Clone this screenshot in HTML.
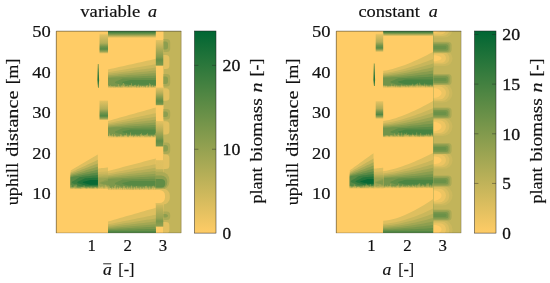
<!DOCTYPE html>
<html><head><meta charset="utf-8"><title>plant biomass</title>
<style>html,body{margin:0;padding:0;background:#fff}svg{display:block}</style>
</head><body>
<svg width="550" height="283" viewBox="0 0 550 283" font-family="'Liberation Serif','DejaVu Serif',serif" fill="#111">
<rect width="550" height="283" fill="#fff"/>
<clipPath id="cl"><rect x="56" y="31" width="125.4" height="202.1"/></clipPath>
<clipPath id="cr"><rect x="336" y="31" width="125.2" height="202.1"/></clipPath>
<g clip-path="url(#cl)">
<rect x="56" y="31" width="125.4" height="202.1" fill="#ffcc66"/>
<rect x="163.5" y="31" width="17.9" height="202.1" fill="#c2b45a"/>
<linearGradient id="g7" x1="0" y1="31" x2="0" y2="38" gradientUnits="userSpaceOnUse"><stop offset="0" stop-color="#26753b"/><stop offset="0.43" stop-color="#73944a"/><stop offset="1" stop-color="#ffcc66"/></linearGradient>
<rect x="108" y="31" width="47.8" height="7" fill="url(#g7)"/>
<polygon points="108,69.5 110.99,68.83 113.97,68.16 116.96,67.49 119.95,66.83 122.94,66.16 125.93,65.49 128.91,64.82 131.9,64.15 134.89,63.48 137.88,62.81 140.86,62.14 143.85,61.47 146.84,60.81 149.83,60.14 152.81,59.47 155.8,58.8 155.8,88 152.81,88 149.83,88 146.84,88 143.85,88 140.86,88 137.88,88 134.89,88 131.9,88 128.91,88 125.93,88 122.94,88 119.95,88 116.96,88 113.97,88 110.99,88 108,88" fill="#debf5f"/>
<polygon points="108,72.19 110.99,71.69 113.97,71.19 116.96,70.7 119.95,70.2 122.94,69.7 125.93,69.2 128.91,68.71 131.9,68.21 134.89,67.71 137.88,67.21 140.86,66.72 143.85,66.22 146.84,65.72 149.83,65.22 152.81,64.73 155.8,64.23 155.8,87.75 152.81,87.75 149.83,87.75 146.84,87.75 143.85,87.75 140.86,87.75 137.88,87.75 134.89,87.75 131.9,87.75 128.91,87.75 125.93,87.75 122.94,87.75 119.95,87.75 116.96,87.75 113.97,87.75 110.99,87.75 108,87.75" fill="#cab75b"/>
<polygon points="108,73.87 110.99,73.48 113.97,73.09 116.96,72.7 119.95,72.31 122.94,71.92 125.93,71.53 128.91,71.14 131.9,70.74 134.89,70.35 137.88,69.96 140.86,69.57 143.85,69.18 146.84,68.79 149.83,68.4 152.81,68.01 155.8,67.62 155.8,87.37 152.81,87.37 149.83,87.37 146.84,87.37 143.85,87.37 140.86,87.37 137.88,87.37 134.89,87.37 131.9,87.37 128.91,87.37 125.93,87.37 122.94,87.37 119.95,87.37 116.96,87.37 113.97,87.37 110.99,87.37 108,87.37" fill="#b7af58"/>
<polygon points="108,75.3 110.99,75 113.97,74.7 116.96,74.4 119.95,74.11 122.94,73.81 125.93,73.51 128.91,73.21 131.9,72.91 134.89,72.61 137.88,72.31 140.86,72.01 143.85,71.71 146.84,71.41 149.83,71.11 152.81,70.81 155.8,70.52 155.8,86.94 152.81,86.94 149.83,86.94 146.84,86.94 143.85,86.94 140.86,86.94 137.88,86.94 134.89,86.94 131.9,86.94 128.91,86.94 125.93,86.94 122.94,86.94 119.95,86.94 116.96,86.94 113.97,86.94 110.99,86.94 108,86.94" fill="#a3a754"/>
<polygon points="108,76.6 110.99,76.38 113.97,76.16 116.96,75.95 119.95,75.73 122.94,75.51 125.93,75.3 128.91,75.08 131.9,74.86 134.89,74.65 137.88,74.43 140.86,74.21 143.85,74 146.84,73.78 149.83,73.56 152.81,73.35 155.8,73.13 155.8,86.45 152.81,86.45 149.83,86.45 146.84,86.45 143.85,86.45 140.86,86.45 137.88,86.45 134.89,86.45 131.9,86.45 128.91,86.45 125.93,86.45 122.94,86.45 119.95,86.45 116.96,86.45 113.97,86.45 110.99,86.45 108,86.45" fill="#8f9f50"/>
<polygon points="108,77.8 110.99,77.66 113.97,77.52 116.96,77.38 119.95,77.24 122.94,77.09 125.93,76.95 128.91,76.81 131.9,76.67 134.89,76.53 137.88,76.39 140.86,76.25 143.85,76.11 146.84,75.97 149.83,75.83 152.81,75.69 155.8,75.55 155.8,85.93 152.81,85.93 149.83,85.93 146.84,85.93 143.85,85.93 140.86,85.93 137.88,85.93 134.89,85.93 131.9,85.93 128.91,85.93 125.93,85.93 122.94,85.93 119.95,85.93 116.96,85.93 113.97,85.93 110.99,85.93 108,85.93" fill="#7b974c"/>
<polygon points="115.02,81.94 117.57,80.86 120.12,79.74 122.67,78.59 125.22,78.53 127.77,78.47 130.31,78.42 132.86,78.36 135.41,78.3 137.96,78.24 140.51,78.18 143.06,78.12 145.61,78.06 148.15,78.01 150.7,77.95 153.25,77.89 155.8,77.83 155.8,85.38 153.25,85.38 150.7,85.38 148.15,85.38 145.61,85.38 143.06,85.38 140.51,85.38 137.96,85.38 135.41,85.38 132.86,85.38 130.31,85.38 127.77,85.38 125.22,85.38 122.67,85.38 120.12,84.56 117.57,83.75 115.02,82.93" fill="#689048"/>
<polygon points="122.34,82.12 124.43,81.54 126.52,80.96 128.61,80.38 130.71,80 132.8,80 134.89,80 136.98,80 139.07,80 141.16,80 143.25,80 145.34,80 147.44,80 149.53,80 151.62,80 153.71,80 155.8,80 155.8,84.8 153.71,84.8 151.62,84.8 149.53,84.8 147.44,84.8 145.34,84.8 143.25,84.8 141.16,84.8 139.07,84.8 136.98,84.8 134.89,84.8 132.8,84.8 130.71,84.8 128.61,84.45 126.52,83.91 124.43,83.38 122.34,82.84" fill="#548844"/>
<polygon points="108,85.35 109,85.35 109,87.16 110,87.16 110,85.23 111,85.23 111,87.83 112,87.83 112,86.14 113,86.14 113,86.29 114,86.29 114,85.66 115,85.66 115,86.87 116,86.87 116,87.35 117,87.35 117,86.86 118,86.86 118,84.25 119,84.25 119,87.64 120,87.64 120,87.19 121,87.19 121,85.42 122,85.42 122,84.49 123,84.49 123,83.09 124,83.09 124,84.42 125,84.42 125,86.42 126,86.42 126,86.02 127,86.02 127,85.53 128,85.53 128,87.38 129,87.38 129,85.05 130,85.05 130,84.97 131,84.97 131,83.15 132,83.15 132,87.06 133,87.06 133,86.51 134,86.51 134,85.02 135,85.02 135,84.82 136,84.82 136,87.64 137,87.64 137,87.99 138,87.99 138,84.54 139,84.54 139,87.96 140,87.96 140,85.69 141,85.69 141,87.39 142,87.39 142,85.92 143,85.92 143,86.15 144,86.15 144,86.75 145,86.75 145,87.61 146,87.61 146,85.4 147,85.4 147,84.97 148,84.97 148,87.16 149,87.16 149,83.21 150,83.21 150,84.19 151,84.19 151,86.78 152,86.78 152,85.04 153,85.04 153,87.78 154,87.78 154,85.63 155,85.63 155,85.97 155.8,85.97 155.8,88.6 108,88.6" fill="#ffcc66" opacity="0.28"/>
<polygon points="108,86.71 109,86.71 109,86.11 110,86.11 110,87.45 111,87.45 111,86.33 112,86.33 112,86.93 113,86.93 113,88 114,88 114,87.49 115,87.49 115,87.92 116,87.92 116,87.08 117,87.08 117,87.5 118,87.5 118,87.87 119,87.87 119,86.41 120,86.41 120,87.96 121,87.96 121,87.94 122,87.94 122,87.81 123,87.81 123,86.13 124,86.13 124,87.1 125,87.1 125,87.25 126,87.25 126,87.49 127,87.49 127,87.93 128,87.93 128,87.33 129,87.33 129,87.62 130,87.62 130,87.49 131,87.49 131,87.91 132,87.91 132,85.98 133,85.98 133,86.45 134,86.45 134,87.37 135,87.37 135,87.06 136,87.06 136,87.99 137,87.99 137,85.93 138,85.93 138,87.86 139,87.86 139,87.55 140,87.55 140,86.57 141,86.57 141,86.66 142,86.66 142,86.33 143,86.33 143,87.83 144,87.83 144,86.72 145,86.72 145,87.97 146,87.97 146,85.83 147,85.83 147,87.99 148,87.99 148,87.86 149,87.86 149,85.82 150,85.82 150,86.78 151,86.78 151,87.98 152,87.98 152,87.74 153,87.74 153,86.88 154,86.88 154,87.86 155,87.86 155,86.09 155.8,86.09 155.8,88.6 108,88.6" fill="#ffcc66" opacity="0.35"/>
<polygon points="108,121 110.99,120.16 113.97,119.31 116.96,118.47 119.95,117.62 122.94,116.78 125.93,115.94 128.91,115.09 131.9,114.25 134.89,113.41 137.88,112.56 140.86,111.72 143.85,110.88 146.84,110.03 149.83,109.19 152.81,108.34 155.8,107.5 155.8,137.5 152.81,137.5 149.83,137.5 146.84,137.5 143.85,137.5 140.86,137.5 137.88,137.5 134.89,137.5 131.9,137.5 128.91,137.5 125.93,137.5 122.94,137.5 119.95,137.5 116.96,137.5 113.97,137.5 110.99,137.5 108,137.5" fill="#debf5f"/>
<polygon points="108,123.18 110.99,122.55 113.97,121.92 116.96,121.29 119.95,120.67 122.94,120.04 125.93,119.41 128.91,118.78 131.9,118.16 134.89,117.53 137.88,116.9 140.86,116.27 143.85,115.65 146.84,115.02 149.83,114.39 152.81,113.76 155.8,113.13 155.8,137.25 152.81,137.25 149.83,137.25 146.84,137.25 143.85,137.25 140.86,137.25 137.88,137.25 134.89,137.25 131.9,137.25 128.91,137.25 125.93,137.25 122.94,137.25 119.95,137.25 116.96,137.25 113.97,137.25 110.99,137.25 108,137.25" fill="#cab75b"/>
<polygon points="108,124.54 110.99,124.04 113.97,123.55 116.96,123.06 119.95,122.57 122.94,122.07 125.93,121.58 128.91,121.09 131.9,120.59 134.89,120.1 137.88,119.61 140.86,119.12 143.85,118.62 146.84,118.13 149.83,117.64 152.81,117.15 155.8,116.65 155.8,136.87 152.81,136.87 149.83,136.87 146.84,136.87 143.85,136.87 140.86,136.87 137.88,136.87 134.89,136.87 131.9,136.87 128.91,136.87 125.93,136.87 122.94,136.87 119.95,136.87 116.96,136.87 113.97,136.87 110.99,136.87 108,136.87" fill="#b7af58"/>
<polygon points="108,125.7 110.99,125.32 113.97,124.94 116.96,124.56 119.95,124.19 122.94,123.81 125.93,123.43 128.91,123.05 131.9,122.68 134.89,122.3 137.88,121.92 140.86,121.54 143.85,121.17 146.84,120.79 149.83,120.41 152.81,120.03 155.8,119.66 155.8,136.44 152.81,136.44 149.83,136.44 146.84,136.44 143.85,136.44 140.86,136.44 137.88,136.44 134.89,136.44 131.9,136.44 128.91,136.44 125.93,136.44 122.94,136.44 119.95,136.44 116.96,136.44 113.97,136.44 110.99,136.44 108,136.44" fill="#a3a754"/>
<polygon points="108,126.75 110.99,126.47 113.97,126.2 116.96,125.92 119.95,125.65 122.94,125.38 125.93,125.1 128.91,124.83 131.9,124.56 134.89,124.28 137.88,124.01 140.86,123.74 143.85,123.46 146.84,123.19 149.83,122.92 152.81,122.64 155.8,122.37 155.8,135.95 152.81,135.95 149.83,135.95 146.84,135.95 143.85,135.95 140.86,135.95 137.88,135.95 134.89,135.95 131.9,135.95 128.91,135.95 125.93,135.95 122.94,135.95 119.95,135.95 116.96,135.95 113.97,135.95 110.99,135.95 108,135.95" fill="#8f9f50"/>
<polygon points="108,127.72 110.99,127.54 113.97,127.36 116.96,127.19 119.95,127.01 122.94,126.83 125.93,126.65 128.91,126.48 131.9,126.3 134.89,126.12 137.88,125.95 140.86,125.77 143.85,125.59 146.84,125.41 149.83,125.24 152.81,125.06 155.8,124.88 155.8,135.43 152.81,135.43 149.83,135.43 146.84,135.43 143.85,135.43 140.86,135.43 137.88,135.43 134.89,135.43 131.9,135.43 128.91,135.43 125.93,135.43 122.94,135.43 119.95,135.43 116.96,135.43 113.97,135.43 110.99,135.43 108,135.43" fill="#7b974c"/>
<polygon points="115.02,131.46 117.57,130.42 120.12,129.34 122.67,128.21 125.22,128.13 127.77,128.06 130.31,127.99 132.86,127.91 135.41,127.84 137.96,127.77 140.51,127.69 143.06,127.62 145.61,127.54 148.15,127.47 150.7,127.4 153.25,127.32 155.8,127.25 155.8,134.88 153.25,134.88 150.7,134.88 148.15,134.88 145.61,134.88 143.06,134.88 140.51,134.88 137.96,134.88 135.41,134.88 132.86,134.88 130.31,134.88 127.77,134.88 125.22,134.88 122.67,134.88 120.12,134.06 117.57,133.25 115.02,132.43" fill="#689048"/>
<polygon points="122.34,131.62 124.43,131.04 126.52,130.46 128.61,129.88 130.71,129.5 132.8,129.5 134.89,129.5 136.98,129.5 139.07,129.5 141.16,129.5 143.25,129.5 145.34,129.5 147.44,129.5 149.53,129.5 151.62,129.5 153.71,129.5 155.8,129.5 155.8,134.3 153.71,134.3 151.62,134.3 149.53,134.3 147.44,134.3 145.34,134.3 143.25,134.3 141.16,134.3 139.07,134.3 136.98,134.3 134.89,134.3 132.8,134.3 130.71,134.3 128.61,133.95 126.52,133.41 124.43,132.88 122.34,132.34" fill="#548844"/>
<polygon points="108,136.05 109,136.05 109,133.5 110,133.5 110,135.74 111,135.74 111,137.17 112,137.17 112,134.05 113,134.05 113,137.5 114,137.5 114,133.95 115,133.95 115,136.71 116,136.71 116,137.27 117,137.27 117,136.99 118,136.99 118,135.99 119,135.99 119,136.9 120,136.9 120,134.31 121,134.31 121,134.48 122,134.48 122,136.75 123,136.75 123,137.02 124,137.02 124,134.74 125,134.74 125,135.18 126,135.18 126,133.37 127,133.37 127,137 128,137 128,137.26 129,137.26 129,135.42 130,135.42 130,132.59 131,132.59 131,136.08 132,136.08 132,136.34 133,136.34 133,137.43 134,137.43 134,136.74 135,136.74 135,134.41 136,134.41 136,136.98 137,136.98 137,136.46 138,136.46 138,136.12 139,136.12 139,136.33 140,136.33 140,134 141,134 141,133.14 142,133.14 142,135 143,135 143,135.85 144,135.85 144,135.35 145,135.35 145,135.04 146,135.04 146,134.26 147,134.26 147,133.22 148,133.22 148,136.22 149,136.22 149,136.46 150,136.46 150,137.44 151,137.44 151,136.05 152,136.05 152,135.97 153,135.97 153,137.14 154,137.14 154,134.85 155,134.85 155,133.08 155.8,133.08 155.8,138.1 108,138.1" fill="#ffcc66" opacity="0.28"/>
<polygon points="108,135.96 109,135.96 109,135.46 110,135.46 110,135.55 111,135.55 111,135.52 112,135.52 112,136.32 113,136.32 113,136.73 114,136.73 114,136.4 115,136.4 115,135.4 116,135.4 116,137.47 117,137.47 117,137.49 118,137.49 118,137.11 119,137.11 119,136.45 120,136.45 120,136.35 121,136.35 121,137.41 122,137.41 122,136.48 123,136.48 123,136.51 124,136.51 124,136.17 125,136.17 125,135.61 126,135.61 126,135.85 127,135.85 127,137.17 128,137.17 128,137.43 129,137.43 129,136.09 130,136.09 130,135.55 131,135.55 131,136.5 132,136.5 132,135.6 133,135.6 133,137.5 134,137.5 134,136.08 135,136.08 135,136.4 136,136.4 136,135.8 137,135.8 137,137.07 138,137.07 138,135.92 139,135.92 139,137.23 140,137.23 140,137.5 141,137.5 141,135.64 142,135.64 142,136.27 143,136.27 143,135.89 144,135.89 144,137.42 145,137.42 145,137.47 146,137.47 146,137.49 147,137.49 147,137.18 148,137.18 148,136.4 149,136.4 149,137.45 150,137.45 150,136.82 151,136.82 151,135.59 152,135.59 152,137.22 153,137.22 153,137.48 154,137.48 154,137.4 155,137.4 155,136.01 155.8,136.01 155.8,138.1 108,138.1" fill="#ffcc66" opacity="0.35"/>
<polygon points="108,171 110.99,170.22 113.97,169.44 116.96,168.66 119.95,167.88 122.94,167.09 125.93,166.31 128.91,165.53 131.9,164.75 134.89,163.97 137.88,163.19 140.86,162.41 143.85,161.62 146.84,160.84 149.83,160.06 152.81,159.28 155.8,158.5 155.8,190 152.81,190 149.83,190 146.84,190 143.85,190 140.86,190 137.88,190 134.89,190 131.9,190 128.91,190 125.93,190 122.94,190 119.95,190 116.96,190 113.97,190 110.99,190 108,190" fill="#debf5f"/>
<polygon points="108,173.56 110.99,172.98 113.97,172.4 116.96,171.82 119.95,171.24 122.94,170.66 125.93,170.07 128.91,169.49 131.9,168.91 134.89,168.33 137.88,167.75 140.86,167.17 143.85,166.59 146.84,166.01 149.83,165.42 152.81,164.84 155.8,164.26 155.8,189.67 152.81,189.67 149.83,189.67 146.84,189.67 143.85,189.67 140.86,189.67 137.88,189.67 134.89,189.67 131.9,189.67 128.91,189.67 125.93,189.67 122.94,189.67 119.95,189.67 116.96,189.67 113.97,189.67 110.99,189.67 108,189.67" fill="#cbb75c"/>
<polygon points="108,175.16 110.99,174.7 113.97,174.25 116.96,173.79 119.95,173.34 122.94,172.88 125.93,172.42 128.91,171.97 131.9,171.51 134.89,171.05 137.88,170.6 140.86,170.14 143.85,169.69 146.84,169.23 149.83,168.77 152.81,168.32 155.8,167.86 155.8,189.18 152.81,189.18 149.83,189.18 146.84,189.18 143.85,189.18 140.86,189.18 137.88,189.18 134.89,189.18 131.9,189.18 128.91,189.18 125.93,189.18 122.94,189.18 119.95,189.18 116.96,189.18 113.97,189.18 110.99,189.18 108,189.18" fill="#b7af58"/>
<polygon points="108,176.53 110.99,176.18 113.97,175.83 116.96,175.48 119.95,175.13 122.94,174.78 125.93,174.43 128.91,174.08 131.9,173.73 134.89,173.38 137.88,173.03 140.86,172.68 143.85,172.33 146.84,171.98 149.83,171.63 152.81,171.28 155.8,170.93 155.8,188.6 152.81,188.6 149.83,188.6 146.84,188.6 143.85,188.6 140.86,188.6 137.88,188.6 134.89,188.6 131.9,188.6 128.91,188.6 125.93,188.6 122.94,188.6 119.95,188.6 116.96,188.6 113.97,188.6 110.99,188.6 108,188.6" fill="#a4a854"/>
<polygon points="108,177.76 110.99,177.51 113.97,177.25 116.96,177 119.95,176.75 122.94,176.49 125.93,176.24 128.91,175.99 131.9,175.73 134.89,175.48 137.88,175.23 140.86,174.97 143.85,174.72 146.84,174.47 149.83,174.21 152.81,173.96 155.8,173.71 155.8,187.97 152.81,187.97 149.83,187.97 146.84,187.97 143.85,187.97 140.86,187.97 137.88,187.97 134.89,187.97 131.9,187.97 128.91,187.97 125.93,187.97 122.94,187.97 119.95,187.97 116.96,187.97 113.97,187.97 110.99,187.97 108,187.97" fill="#91a050"/>
<polygon points="108,178.9 110.99,178.74 113.97,178.57 116.96,178.41 119.95,178.25 122.94,178.08 125.93,177.92 128.91,177.75 131.9,177.59 134.89,177.43 137.88,177.26 140.86,177.1 143.85,176.93 146.84,176.77 149.83,176.61 152.81,176.44 155.8,176.28 155.8,187.29 152.81,187.29 149.83,187.29 146.84,187.29 143.85,187.29 140.86,187.29 137.88,187.29 134.89,187.29 131.9,187.29 128.91,187.29 125.93,187.29 122.94,187.29 119.95,187.29 116.96,187.29 113.97,187.29 110.99,187.29 108,187.29" fill="#7d984c"/>
<polygon points="115.02,182.94 117.57,181.86 120.12,180.74 122.67,179.59 125.22,179.52 127.77,179.45 130.31,179.38 132.86,179.31 135.41,179.24 137.96,179.18 140.51,179.11 143.06,179.04 145.61,178.97 148.15,178.9 150.7,178.83 153.25,178.77 155.8,178.7 155.8,186.56 153.25,186.56 150.7,186.56 148.15,186.56 145.61,186.56 143.06,186.56 140.51,186.56 137.96,186.56 135.41,186.56 132.86,186.56 130.31,186.56 127.77,186.56 125.22,186.56 122.67,186.56 120.12,185.69 117.57,184.83 115.02,183.96" fill="#6a9048"/>
<polygon points="122.34,183.12 124.43,182.54 126.52,181.96 128.61,181.38 130.71,181 132.8,181 134.89,181 136.98,181 139.07,181 141.16,181 143.25,181 145.34,181 147.44,181 149.53,181 151.62,181 153.71,181 155.8,181 155.8,185.8 153.71,185.8 151.62,185.8 149.53,185.8 147.44,185.8 145.34,185.8 143.25,185.8 141.16,185.8 139.07,185.8 136.98,185.8 134.89,185.8 132.8,185.8 130.71,185.8 128.61,185.45 126.52,184.91 124.43,184.38 122.34,183.84" fill="#578944"/>
<polygon points="108,185.54 109,185.54 109,186.26 110,186.26 110,188.36 111,188.36 111,189.25 112,189.25 112,186.67 113,186.67 113,189.7 114,189.7 114,186.09 115,186.09 115,185.22 116,185.22 116,188.86 117,188.86 117,186.83 118,186.83 118,188.75 119,188.75 119,186.62 120,186.62 120,187.19 121,187.19 121,188.58 122,188.58 122,189.86 123,189.86 123,185.68 124,185.68 124,186.07 125,186.07 125,189.28 126,189.28 126,189.48 127,189.48 127,186.46 128,186.46 128,188.7 129,188.7 129,187.48 130,187.48 130,189.74 131,189.74 131,185.46 132,185.46 132,189.76 133,189.76 133,189.82 134,189.82 134,186.88 135,186.88 135,189.14 136,189.14 136,186.02 137,186.02 137,188.34 138,188.34 138,189.2 139,189.2 139,189.72 140,189.72 140,186.9 141,186.9 141,188.87 142,188.87 142,189.09 143,189.09 143,187.31 144,187.31 144,189.99 145,189.99 145,185.98 146,185.98 146,185.7 147,185.7 147,187.55 148,187.55 148,189.77 149,189.77 149,186.5 150,186.5 150,189.55 151,189.55 151,189.25 152,189.25 152,186.14 153,186.14 153,185.75 154,185.75 154,186.82 155,186.82 155,187.64 155.8,187.64 155.8,190.6 108,190.6" fill="#ffcc66" opacity="0.28"/>
<polygon points="108,189.44 109,189.44 109,188.83 110,188.83 110,187.95 111,187.95 111,189.65 112,189.65 112,189.05 113,189.05 113,188.27 114,188.27 114,188.55 115,188.55 115,189.16 116,189.16 116,189.83 117,189.83 117,188.62 118,188.62 118,189.2 119,189.2 119,187.91 120,187.91 120,189.49 121,189.49 121,187.93 122,187.93 122,189.74 123,189.74 123,188.13 124,188.13 124,190 125,190 125,187.9 126,187.9 126,189.34 127,189.34 127,189.97 128,189.97 128,189.38 129,189.38 129,189.92 130,189.92 130,189.62 131,189.62 131,189.94 132,189.94 132,189.94 133,189.94 133,189.89 134,189.89 134,188.71 135,188.71 135,189.98 136,189.98 136,189.66 137,189.66 137,189.45 138,189.45 138,188.44 139,188.44 139,190 140,190 140,189.52 141,189.52 141,189.6 142,189.6 142,188.88 143,188.88 143,189.82 144,189.82 144,188.68 145,188.68 145,189.11 146,189.11 146,189.16 147,189.16 147,189.05 148,189.05 148,190 149,190 149,189.65 150,189.65 150,189.19 151,189.19 151,189.23 152,189.23 152,188.35 153,188.35 153,189.71 154,189.71 154,187.99 155,187.99 155,189.85 155.8,189.85 155.8,190.6 108,190.6" fill="#ffcc66" opacity="0.35"/>
<polygon points="108,221.5 110.99,220.64 113.97,219.79 116.96,218.93 119.95,218.07 122.94,217.22 125.93,216.36 128.91,215.51 131.9,214.65 134.89,213.79 137.88,212.94 140.86,212.08 143.85,211.22 146.84,210.37 149.83,209.51 152.81,208.66 155.8,207.8 155.8,238 152.81,238 149.83,238 146.84,238 143.85,238 140.86,238 137.88,238 134.89,238 131.9,238 128.91,238 125.93,238 122.94,238 119.95,238 116.96,238 113.97,238 110.99,238 108,238" fill="#debf5f"/>
<polygon points="108,224.34 110.99,223.74 113.97,223.14 116.96,222.54 119.95,221.94 122.94,221.34 125.93,220.74 128.91,220.14 131.9,219.54 134.89,218.94 137.88,218.34 140.86,217.74 143.85,217.14 146.84,216.54 149.83,215.94 152.81,215.34 155.8,214.74 155.8,237.82 152.81,237.82 149.83,237.82 146.84,237.82 143.85,237.82 140.86,237.82 137.88,237.82 134.89,237.82 131.9,237.82 128.91,237.82 125.93,237.82 122.94,237.82 119.95,237.82 116.96,237.82 113.97,237.82 110.99,237.82 108,237.82" fill="#cab75b"/>
<polygon points="108,225.87 110.99,225.41 113.97,224.94 116.96,224.48 119.95,224.02 122.94,223.56 125.93,223.09 128.91,222.63 131.9,222.17 134.89,221.71 137.88,221.24 140.86,220.78 143.85,220.32 146.84,219.86 149.83,219.39 152.81,218.93 155.8,218.47 155.8,237.57 152.81,237.57 149.83,237.57 146.84,237.57 143.85,237.57 140.86,237.57 137.88,237.57 134.89,237.57 131.9,237.57 128.91,237.57 125.93,237.57 122.94,237.57 119.95,237.57 116.96,237.57 113.97,237.57 110.99,237.57 108,237.57" fill="#b6af57"/>
<polygon points="108,227.12 110.99,226.77 113.97,226.42 116.96,226.07 119.95,225.72 122.94,225.37 125.93,225.02 128.91,224.67 131.9,224.32 134.89,223.97 137.88,223.62 140.86,223.27 143.85,222.92 146.84,222.57 149.83,222.22 152.81,221.87 155.8,221.52 155.8,237.27 152.81,237.27 149.83,237.27 146.84,237.27 143.85,237.27 140.86,237.27 137.88,237.27 134.89,237.27 131.9,237.27 128.91,237.27 125.93,237.27 122.94,237.27 119.95,237.27 116.96,237.27 113.97,237.27 110.99,237.27 108,237.27" fill="#a2a753"/>
<polygon points="108,228.21 110.99,227.96 113.97,227.71 116.96,227.46 119.95,227.21 122.94,226.96 125.93,226.71 128.91,226.46 131.9,226.21 134.89,225.96 137.88,225.7 140.86,225.45 143.85,225.2 146.84,224.95 149.83,224.7 152.81,224.45 155.8,224.2 155.8,236.94 152.81,236.94 149.83,236.94 146.84,236.94 143.85,236.94 140.86,236.94 137.88,236.94 134.89,236.94 131.9,236.94 128.91,236.94 125.93,236.94 122.94,236.94 119.95,236.94 116.96,236.94 113.97,236.94 110.99,236.94 108,236.94" fill="#8e9f4f"/>
<polygon points="108,229.21 110.99,229.05 113.97,228.89 116.96,228.73 119.95,228.57 122.94,228.41 125.93,228.24 128.91,228.08 131.9,227.92 134.89,227.76 137.88,227.6 140.86,227.44 143.85,227.28 146.84,227.12 149.83,226.95 152.81,226.79 155.8,226.63 155.8,236.58 152.81,236.58 149.83,236.58 146.84,236.58 143.85,236.58 140.86,236.58 137.88,236.58 134.89,236.58 131.9,236.58 128.91,236.58 125.93,236.58 122.94,236.58 119.95,236.58 116.96,236.58 113.97,236.58 110.99,236.58 108,236.58" fill="#7a974b"/>
<polygon points="108,230.13 110.99,230.06 113.97,229.98 116.96,229.9 119.95,229.82 122.94,229.74 125.93,229.67 128.91,229.59 131.9,229.51 134.89,229.43 137.88,229.35 140.86,229.28 143.85,229.2 146.84,229.12 149.83,229.04 152.81,228.96 155.8,228.89 155.8,236.2 152.81,236.2 149.83,236.2 146.84,236.2 143.85,236.2 140.86,236.2 137.88,236.2 134.89,236.2 131.9,236.2 128.91,236.2 125.93,236.2 122.94,236.2 119.95,236.2 116.96,236.2 113.97,236.2 110.99,236.2 108,236.2" fill="#668f47"/>
<polygon points="108,231 110.99,231 113.97,231 116.96,231 119.95,231 122.94,231 125.93,231 128.91,231 131.9,231 134.89,231 137.88,231 140.86,231 143.85,231 146.84,231 149.83,231 152.81,231 155.8,231 155.8,235.8 152.81,235.8 149.83,235.8 146.84,235.8 143.85,235.8 140.86,235.8 137.88,235.8 134.89,235.8 131.9,235.8 128.91,235.8 125.93,235.8 122.94,235.8 119.95,235.8 116.96,235.8 113.97,235.8 110.99,235.8 108,235.8" fill="#528743"/>
<polygon points="97.8,168.5 98.44,168.44 99.08,168.38 99.71,168.31 100.35,168.25 100.99,168.19 101.62,168.12 102.26,168.06 102.9,168 103.54,167.94 104.17,167.88 104.81,167.81 105.45,167.75 106.09,167.69 106.72,167.62 107.36,167.56 108,167.5 108,189 107.36,189 106.72,189 106.09,189 105.45,189 104.81,189 104.17,189 103.54,189 102.9,189 102.26,189 101.62,189 100.99,189 100.35,189 99.71,189 99.08,189 98.44,189 97.8,189" fill="#debf5f"/>
<polygon points="97.8,172.09 98.44,172.05 99.08,172 99.71,171.96 100.35,171.92 100.99,171.87 101.62,171.83 102.26,171.78 102.9,171.74 103.54,171.7 104.17,171.65 104.81,171.61 105.45,171.57 106.09,171.52 106.72,171.48 107.36,171.43 108,171.39 108,188.71 107.36,188.71 106.72,188.71 106.09,188.71 105.45,188.71 104.81,188.71 104.17,188.71 103.54,188.71 102.9,188.71 102.26,188.71 101.62,188.71 100.99,188.71 100.35,188.71 99.71,188.71 99.08,188.71 98.44,188.71 97.8,188.71" fill="#d0b95d"/>
<polygon points="97.8,174.02 98.44,173.99 99.08,173.95 99.71,173.92 100.35,173.88 100.99,173.85 101.62,173.82 102.26,173.78 102.9,173.75 103.54,173.72 104.17,173.68 104.81,173.65 105.45,173.61 106.09,173.58 106.72,173.55 107.36,173.51 108,173.48 108,188.27 107.36,188.27 106.72,188.27 106.09,188.27 105.45,188.27 104.81,188.27 104.17,188.27 103.54,188.27 102.9,188.27 102.26,188.27 101.62,188.27 100.99,188.27 100.35,188.27 99.71,188.27 99.08,188.27 98.44,188.27 97.8,188.27" fill="#c3b45a"/>
<polygon points="97.8,175.6 98.44,175.57 99.08,175.55 99.71,175.52 100.35,175.49 100.99,175.47 101.62,175.44 102.26,175.42 102.9,175.39 103.54,175.37 104.17,175.34 104.81,175.32 105.45,175.29 106.09,175.26 106.72,175.24 107.36,175.21 108,175.19 108,187.77 107.36,187.77 106.72,187.77 106.09,187.77 105.45,187.77 104.81,187.77 104.17,187.77 103.54,187.77 102.9,187.77 102.26,187.77 101.62,187.77 100.99,187.77 100.35,187.77 99.71,187.77 99.08,187.77 98.44,187.77 97.8,187.77" fill="#b5af57"/>
<polygon points="97.8,176.98 98.44,176.96 99.08,176.95 99.71,176.93 100.35,176.91 100.99,176.89 101.62,176.87 102.26,176.85 102.9,176.84 103.54,176.82 104.17,176.8 104.81,176.78 105.45,176.76 106.09,176.74 106.72,176.73 107.36,176.71 108,176.69 108,187.21 107.36,187.21 106.72,187.21 106.09,187.21 105.45,187.21 104.81,187.21 104.17,187.21 103.54,187.21 102.9,187.21 102.26,187.21 101.62,187.21 100.99,187.21 100.35,187.21 99.71,187.21 99.08,187.21 98.44,187.21 97.8,187.21" fill="#a8a955"/>
<polygon points="97.8,178.24 98.44,178.23 99.08,178.22 99.71,178.21 100.35,178.19 100.99,178.18 101.62,178.17 102.26,178.16 102.9,178.15 103.54,178.13 104.17,178.12 104.81,178.11 105.45,178.1 106.09,178.09 106.72,178.08 107.36,178.06 108,178.05 108,186.61 107.36,186.61 106.72,186.61 106.09,186.61 105.45,186.61 104.81,186.61 104.17,186.61 103.54,186.61 102.9,186.61 102.26,186.61 101.62,186.61 100.99,186.61 100.35,186.61 99.71,186.61 99.08,186.61 98.44,186.61 97.8,186.61" fill="#9aa452"/>
<polygon points="99.3,182.46 99.84,182.24 100.39,182.02 100.93,181.8 101.47,181.58 102.02,181.36 102.56,181.14 103.11,180.91 103.65,180.69 104.19,180.47 104.74,180.24 105.28,180.02 105.82,179.79 106.37,179.57 106.91,179.34 107.46,179.32 108,179.32 108,185.97 107.46,185.97 106.91,185.96 106.37,185.78 105.82,185.6 105.28,185.42 104.74,185.24 104.19,185.06 103.65,184.88 103.11,184.7 102.56,184.52 102.02,184.34 101.47,184.16 100.93,183.98 100.39,183.8 99.84,183.63 99.3,183.45" fill="#8d9e4f"/>
<polygon points="100.86,182.62 101.31,182.5 101.75,182.38 102.2,182.25 102.64,182.13 103.09,182.01 103.54,181.88 103.98,181.76 104.43,181.63 104.88,181.51 105.32,181.39 105.77,181.26 106.22,181.14 106.66,181.01 107.11,180.89 107.55,180.77 108,180.64 108,185.17 107.55,185.06 107.11,184.94 106.66,184.83 106.22,184.71 105.77,184.6 105.32,184.49 104.88,184.37 104.43,184.26 103.98,184.14 103.54,184.03 103.09,183.92 102.64,183.8 102.2,183.69 101.75,183.57 101.31,183.46 100.86,183.34" fill="#80994c"/>
<polygon points="97.8,188.26 98.8,188.26 98.8,185.68 99.8,185.68 99.8,188.27 100.8,188.27 100.8,186.68 101.8,186.68 101.8,186.32 102.8,186.32 102.8,188.02 103.8,188.02 103.8,188.78 104.8,188.78 104.8,184.72 105.8,184.72 105.8,185.54 106.8,185.54 106.8,187.33 107.8,187.33 107.8,185.53 108,185.53 108,189.6 97.8,189.6" fill="#ffcc66" opacity="0.28"/>
<polygon points="97.8,188.38 98.8,188.38 98.8,188.96 99.8,188.96 99.8,187.42 100.8,187.42 100.8,188.86 101.8,188.86 101.8,187.59 102.8,187.59 102.8,189 103.8,189 103.8,188.7 104.8,188.7 104.8,188.5 105.8,188.5 105.8,187.35 106.8,187.35 106.8,188.99 107.8,188.99 107.8,187.47 108,187.47 108,189.6 97.8,189.6" fill="#ffcc66" opacity="0.35"/>
<polygon points="70.6,170.5 72.3,169.5 74,168.5 75.7,167.5 77.4,166.5 79.1,165.5 80.8,164.5 82.5,163.5 84.2,162.5 85.9,161.5 87.6,160.5 89.3,159.5 91,158.5 92.7,157.5 94.4,156.5 96.1,155.5 97.8,154.5 97.8,189.3 96.1,189.3 94.4,189.3 92.7,189.3 91,189.3 89.3,189.3 87.6,189.3 85.9,189.3 84.2,189.3 82.5,189.3 80.8,189.3 79.1,189.3 77.4,189.3 75.7,189.3 74,189.3 72.3,189.3 70.6,189.3" fill="#debf5f"/>
<polygon points="70.6,172.5 72.3,171.71 74,170.92 75.7,170.13 77.4,169.34 79.1,168.55 80.8,167.76 82.5,166.97 84.2,166.18 85.9,165.39 87.6,164.6 89.3,163.81 91,163.02 92.7,162.23 94.4,161.44 96.1,160.65 97.8,159.86 97.8,189 96.1,189 94.4,189 92.7,189 91,189 89.3,189 87.6,189 85.9,189 84.2,189 82.5,189 80.8,189 79.1,189 77.4,189 75.7,189 74,189 72.3,189 70.6,189" fill="#c3b45a"/>
<polygon points="70.6,173.86 72.3,173.21 74,172.57 75.7,171.92 77.4,171.27 79.1,170.63 80.8,169.98 82.5,169.33 84.2,168.69 85.9,168.04 87.6,167.39 89.3,166.75 91,166.1 92.7,165.45 94.4,164.81 96.1,164.16 97.8,163.52 97.8,188.56 96.1,188.56 94.4,188.56 92.7,188.56 91,188.56 89.3,188.56 87.6,188.56 85.9,188.56 84.2,188.56 82.5,188.56 80.8,188.56 79.1,188.56 77.4,188.56 75.7,188.56 74,188.56 72.3,188.56 70.6,188.56" fill="#a8a955"/>
<polygon points="70.6,175.05 72.3,174.53 74,174.01 75.7,173.49 77.4,172.97 79.1,172.45 80.8,171.93 82.5,171.41 84.2,170.89 85.9,170.37 87.6,169.84 89.3,169.32 91,168.8 92.7,168.28 94.4,167.76 96.1,167.24 97.8,166.72 97.8,188.04 96.1,188.04 94.4,188.04 92.7,188.04 91,188.04 89.3,188.04 87.6,188.04 85.9,188.04 84.2,188.04 82.5,188.04 80.8,188.04 79.1,188.04 77.4,188.04 75.7,188.04 74,188.04 72.3,188.04 70.6,188.04" fill="#8e9f4f"/>
<polygon points="70.6,176.15 72.3,175.74 74,175.34 75.7,174.93 77.4,174.53 79.1,174.12 80.8,173.72 82.5,173.31 84.2,172.91 85.9,172.5 87.6,172.09 89.3,171.69 91,171.28 92.7,170.88 94.4,170.47 96.1,170.07 97.8,169.66 97.8,187.47 96.1,187.47 94.4,187.47 92.7,187.47 91,187.47 89.3,187.47 87.6,187.47 85.9,187.47 84.2,187.47 82.5,187.47 80.8,187.47 79.1,187.47 77.4,187.47 75.7,187.47 74,187.47 72.3,187.47 70.6,187.47" fill="#73944a"/>
<polygon points="70.6,177.18 72.3,176.88 74,176.58 75.7,176.29 77.4,175.99 79.1,175.69 80.8,175.4 82.5,175.1 84.2,174.8 85.9,174.5 87.6,174.21 89.3,173.91 91,173.61 92.7,173.32 94.4,173.02 96.1,172.72 97.8,172.42 97.8,186.86 96.1,186.86 94.4,186.86 92.7,186.86 91,186.86 89.3,186.86 87.6,186.86 85.9,186.86 84.2,186.86 82.5,186.86 80.8,186.86 79.1,186.86 77.4,186.86 75.7,186.86 74,186.86 72.3,186.86 70.6,186.86" fill="#588945"/>
<polygon points="71.91,181.83 73.53,180.96 75.15,180.02 76.77,179.02 78.38,177.95 80,177.08 81.62,176.9 83.24,176.71 84.86,176.53 86.47,176.34 88.09,176.16 89.71,175.97 91.33,175.79 92.95,175.61 94.56,175.42 96.18,175.24 97.8,175.05 97.8,186.2 96.18,186.2 94.56,186.2 92.95,186.2 91.33,186.2 89.71,186.2 88.09,186.2 86.47,186.2 84.86,186.2 83.24,186.2 81.62,186.2 80,186.2 78.38,185.72 76.77,185.05 75.15,184.39 73.53,183.72 71.91,183.06" fill="#3d7e3f"/>
<polygon points="77.38,181.93 78.65,181.37 79.93,180.8 81.21,180.2 82.48,179.58 83.76,178.94 85.03,178.29 86.31,178.21 87.59,178.14 88.86,178.07 90.14,178 91.42,177.93 92.69,177.86 93.97,177.78 95.25,177.71 96.52,177.64 97.8,177.57 97.8,185.52 96.52,185.52 95.25,185.52 93.97,185.52 92.69,185.52 91.42,185.52 90.14,185.52 88.86,185.52 87.59,185.52 86.31,185.52 85.03,185.52 83.76,185.09 82.48,184.66 81.21,184.24 79.93,183.81 78.65,183.38 77.38,182.95" fill="#22743a"/>
<polygon points="82.84,182.12 83.78,181.87 84.71,181.61 85.64,181.35 86.58,181.09 87.52,180.83 88.45,180.57 89.39,180.31 90.32,180.05 91.25,180 92.19,180 93.12,180 94.06,180 95,180 95.93,180 96.86,180 97.8,180 97.8,184.8 96.86,184.8 95.93,184.8 95,184.8 94.06,184.8 93.12,184.8 92.19,184.8 91.25,184.8 90.32,184.76 89.39,184.52 88.45,184.28 87.52,184.04 86.58,183.8 85.64,183.56 84.71,183.32 83.78,183.08 82.84,182.84" fill="#086935"/>
<polygon points="70.6,184.83 71.6,184.83 71.6,187.11 72.6,187.11 72.6,188.03 73.6,188.03 73.6,185.46 74.6,185.46 74.6,185.73 75.6,185.73 75.6,184.32 76.6,184.32 76.6,188.47 77.6,188.47 77.6,188.22 78.6,188.22 78.6,188.79 79.6,188.79 79.6,189.18 80.6,189.18 80.6,186.93 81.6,186.93 81.6,186.97 82.6,186.97 82.6,187.08 83.6,187.08 83.6,185.31 84.6,185.31 84.6,187.72 85.6,187.72 85.6,188.8 86.6,188.8 86.6,188.65 87.6,188.65 87.6,187.36 88.6,187.36 88.6,188.47 89.6,188.47 89.6,188.73 90.6,188.73 90.6,186.48 91.6,186.48 91.6,188.66 92.6,188.66 92.6,188.25 93.6,188.25 93.6,188.8 94.6,188.8 94.6,187.11 95.6,187.11 95.6,187.93 96.6,187.93 96.6,188.68 97.6,188.68 97.6,188.82 97.8,188.82 97.8,189.9 70.6,189.9" fill="#ffcc66" opacity="0.28"/>
<polygon points="70.6,188.3 71.6,188.3 71.6,189.29 72.6,189.29 72.6,187.6 73.6,187.6 73.6,187.62 74.6,187.62 74.6,188.95 75.6,188.95 75.6,189.3 76.6,189.3 76.6,187.78 77.6,187.78 77.6,189.18 78.6,189.18 78.6,187.82 79.6,187.82 79.6,189.29 80.6,189.29 80.6,189.3 81.6,189.3 81.6,188.58 82.6,188.58 82.6,187.91 83.6,187.91 83.6,187.93 84.6,187.93 84.6,188.08 85.6,188.08 85.6,189.26 86.6,189.26 86.6,188.58 87.6,188.58 87.6,187.44 88.6,187.44 88.6,188.05 89.6,188.05 89.6,188.21 90.6,188.21 90.6,188.61 91.6,188.61 91.6,188.65 92.6,188.65 92.6,188.83 93.6,188.83 93.6,188.45 94.6,188.45 94.6,187.19 95.6,187.19 95.6,187.7 96.6,187.7 96.6,188.8 97.6,188.8 97.6,187.26 97.8,187.26 97.8,189.9 70.6,189.9" fill="#ffcc66" opacity="0.35"/>
<linearGradient id="g68" x1="0" y1="33.2" x2="0" y2="53.8" gradientUnits="userSpaceOnUse"><stop offset="0" stop-color="#ffcc66"/><stop offset="0.09" stop-color="#e0c060"/><stop offset="0.48" stop-color="#b2ad57"/><stop offset="0.65" stop-color="#73944a"/><stop offset="0.77" stop-color="#598a45"/><stop offset="0.89" stop-color="#99a352"/><stop offset="1" stop-color="#ffcc66"/></linearGradient>
<rect x="99.5" y="33.2" width="8.5" height="20.6" fill="url(#g68)"/>
<linearGradient id="g70" x1="0" y1="100" x2="0" y2="120.5" gradientUnits="userSpaceOnUse"><stop offset="0" stop-color="#ffcc66"/><stop offset="0.07" stop-color="#e0c060"/><stop offset="0.44" stop-color="#b2ad57"/><stop offset="0.63" stop-color="#73944a"/><stop offset="0.78" stop-color="#528743"/><stop offset="0.9" stop-color="#99a352"/><stop offset="1" stop-color="#ffcc66"/></linearGradient>
<rect x="99.5" y="100" width="8.5" height="20.5" fill="url(#g70)"/>
<polygon points="97.9,64 98.4,64 99.1,80 98.6,87.8 98,87.8 97.4,80" fill="#26753b"/>
<linearGradient id="g73" x1="0" y1="40" x2="0" y2="66.5" gradientUnits="userSpaceOnUse"><stop offset="0" stop-color="#e6c261"/><stop offset="0.3" stop-color="#b8af58"/><stop offset="0.64" stop-color="#859b4e"/><stop offset="0.75" stop-color="#668f47"/><stop offset="0.94" stop-color="#7a974b"/><stop offset="1" stop-color="#ffcc66"/></linearGradient>
<rect x="155.8" y="40" width="7.7" height="26.5" fill="url(#g73)"/>
<linearGradient id="g75" x1="0" y1="87.5" x2="0" y2="105.8" gradientUnits="userSpaceOnUse"><stop offset="0" stop-color="#e6c261"/><stop offset="0.3" stop-color="#b8af58"/><stop offset="0.57" stop-color="#80994c"/><stop offset="0.74" stop-color="#618d46"/><stop offset="0.92" stop-color="#75954a"/><stop offset="1" stop-color="#ffcc66"/></linearGradient>
<rect x="155.8" y="87.5" width="7.7" height="18.3" fill="url(#g75)"/>
<linearGradient id="g77" x1="0" y1="121" x2="0" y2="147.2" gradientUnits="userSpaceOnUse"><stop offset="0" stop-color="#e6c261"/><stop offset="0.34" stop-color="#b8af58"/><stop offset="0.65" stop-color="#80994c"/><stop offset="0.76" stop-color="#618d46"/><stop offset="0.94" stop-color="#75954a"/><stop offset="1" stop-color="#ffcc66"/></linearGradient>
<rect x="155.8" y="121" width="7.7" height="26.2" fill="url(#g77)"/>
<linearGradient id="g79" x1="0" y1="200.5" x2="0" y2="227.5" gradientUnits="userSpaceOnUse"><stop offset="0" stop-color="#e6c261"/><stop offset="0.35" stop-color="#b8af58"/><stop offset="0.65" stop-color="#99a352"/><stop offset="0.76" stop-color="#7a974b"/><stop offset="0.94" stop-color="#8f9f50"/><stop offset="1" stop-color="#ffcc66"/></linearGradient>
<rect x="155.8" y="200.5" width="7.7" height="27" fill="url(#g79)"/>
<linearGradient id="g81" x1="0" y1="160" x2="0" y2="176" gradientUnits="userSpaceOnUse"><stop offset="0" stop-color="#ffcc66"/><stop offset="0.04" stop-color="#e0c060"/><stop offset="0.56" stop-color="#debf5f"/><stop offset="0.6" stop-color="#c2b45a"/><stop offset="0.81" stop-color="#b2ad57"/><stop offset="1" stop-color="#99a352"/></linearGradient>
<rect x="155.8" y="160" width="7.7" height="16" fill="url(#g81)"/>
<path d="M163.5 55 H165.9 A3.5 3.5 0 0 1 169.4 58.5 V65.5 A3.5 3.5 0 0 1 165.9 69 H163.5 Z" fill="#e3c160"/>
<path d="M163.5 88.3 H165.9 A3.5 3.5 0 0 1 169.4 91.8 V97.3 A3.5 3.5 0 0 1 165.9 100.8 H163.5 Z" fill="#e3c160"/>
<path d="M163.5 121.2 H165.9 A3.5 3.5 0 0 1 169.4 124.7 V131.1 A3.5 3.5 0 0 1 165.9 134.6 H163.5 Z" fill="#e3c160"/>
<path d="M163.5 154.5 H165.9 A3.5 3.5 0 0 1 169.4 158 V165.5 A3.5 3.5 0 0 1 165.9 169 H163.5 Z" fill="#e3c160"/>
<path d="M163.5 222 H165.9 A3.5 3.5 0 0 1 169.4 225.5 V230 A3.5 3.5 0 0 1 165.9 233.5 H163.5 Z" fill="#e3c160"/>
<path d="M163.5 39 H166.7 A3.5 3.5 0 0 1 170.2 42.5 V48.5 A3.5 3.5 0 0 1 166.7 52 H163.5 Z" fill="#abaa55"/>
<path d="M163.5 41.5 H165.5 A2.5 2.5 0 0 1 168 44 V47 A2.5 2.5 0 0 1 165.5 49.5 H163.5 Z" fill="#8c9e4f"/>
<path d="M163.5 74 H166.7 A3.5 3.5 0 0 1 170.2 77.5 V83 A3.5 3.5 0 0 1 166.7 86.5 H163.5 Z" fill="#abaa55"/>
<path d="M163.5 76.5 H165.5 A2.5 2.5 0 0 1 168 79 V81.5 A2.5 2.5 0 0 1 165.5 84 H163.5 Z" fill="#8c9e4f"/>
<path d="M163.5 109 H166.7 A3.5 3.5 0 0 1 170.2 112.5 V116 A3.5 3.5 0 0 1 166.7 119.5 H163.5 Z" fill="#abaa55"/>
<path d="M163.5 111.5 H165.5 A2.5 2.5 0 0 1 168 114 V114.5 A2.5 2.5 0 0 1 165.5 117 H163.5 Z" fill="#8c9e4f"/>
<path d="M163.5 142.5 H166.7 A3.5 3.5 0 0 1 170.2 146 V150.5 A3.5 3.5 0 0 1 166.7 154 H163.5 Z" fill="#abaa55"/>
<path d="M163.5 145 H165.5 A2.5 2.5 0 0 1 168 147.5 V149 A2.5 2.5 0 0 1 165.5 151.5 H163.5 Z" fill="#8c9e4f"/>
<path d="M163.5 211.5 H166.7 A3.5 3.5 0 0 1 170.2 215 V216.5 A3.5 3.5 0 0 1 166.7 220 H163.5 Z" fill="#abaa55"/>
<path d="M163.5 214 H165.5 A2.5 2.5 0 0 1 168 216.5 V215 A2.5 2.5 0 0 1 165.5 217.5 H163.5 Z" fill="#8c9e4f"/>
<path d="M155.8 172 H161.4 A8 8 0 0 1 169.4 180 V181.5 A8 8 0 0 1 161.4 189.5 H155.8 Z" fill="#abaa55"/>
<path d="M155.8 175.5 H161.3 A6 6 0 0 1 167.3 181.5 V182.5 A6 6 0 0 1 161.3 188.5 H155.8 Z" fill="#8c9e4f"/>
<path d="M155.8 179 H161.2 A4 4 0 0 1 165.2 183 V183.5 A4 4 0 0 1 161.2 187.5 H155.8 Z" fill="#618d46"/>
<path d="M155.8 188.8 H163.3 A6.5 6.5 0 0 1 169.8 195.3 V198 A6.5 6.5 0 0 1 163.3 204.5 H155.8 Z" fill="#debf5f"/>
<path d="M154.8 190 H159.5 A5.5 5.5 0 0 1 165 195.5 V197.5 A5.5 5.5 0 0 1 159.5 203 H154.8 Z" fill="#ffcc66"/>
</g><g clip-path="url(#cr)">
<rect x="336" y="31" width="125.2" height="202.1" fill="#ffcc66"/>
<rect x="433" y="31" width="28.2" height="202.1" fill="#c2b45a"/>
<linearGradient id="g106" x1="0" y1="31" x2="0" y2="36.3" gradientUnits="userSpaceOnUse"><stop offset="0" stop-color="#26753b"/><stop offset="0.38" stop-color="#668f47"/><stop offset="1" stop-color="#ffcc66"/></linearGradient>
<rect x="383.2" y="31" width="49.8" height="5.3" fill="url(#g106)"/>
<polygon points="383.2,70.8 386.31,70.41 389.43,69.78 392.54,69 395.65,68.1 398.76,67.11 401.88,66.04 404.99,64.89 408.1,63.68 411.21,62.4 414.32,61.06 417.44,59.67 420.55,58.23 423.66,56.74 426.77,55.21 429.89,53.62 433,52 433,87.7 429.89,87.7 426.77,87.7 423.66,87.7 420.55,87.7 417.44,87.7 414.32,87.7 411.21,87.7 408.1,87.7 404.99,87.7 401.88,87.7 398.76,87.7 395.65,87.7 392.54,87.7 389.43,87.7 386.31,87.7 383.2,87.7" fill="#debf5f"/>
<polygon points="383.2,73.03 386.31,72.74 389.43,72.27 392.54,71.69 395.65,71.02 398.76,70.28 401.88,69.49 404.99,68.63 408.1,67.73 411.21,66.78 414.32,65.79 417.44,64.75 420.55,63.68 423.66,62.57 426.77,61.43 429.89,60.25 433,59.04 433,87.43 429.89,87.43 426.77,87.43 423.66,87.43 420.55,87.43 417.44,87.43 414.32,87.43 411.21,87.43 408.1,87.43 404.99,87.43 401.88,87.43 398.76,87.43 395.65,87.43 392.54,87.43 389.43,87.43 386.31,87.43 383.2,87.43" fill="#c8b65b"/>
<polygon points="383.2,74.42 386.31,74.19 389.43,73.82 392.54,73.37 395.65,72.84 398.76,72.27 401.88,71.64 404.99,70.97 408.1,70.26 411.21,69.51 414.32,68.73 417.44,67.92 420.55,67.08 423.66,66.21 426.77,65.31 429.89,64.39 433,63.44 433,87.03 429.89,87.03 426.77,87.03 423.66,87.03 420.55,87.03 417.44,87.03 414.32,87.03 411.21,87.03 408.1,87.03 404.99,87.03 401.88,87.03 398.76,87.03 395.65,87.03 392.54,87.03 389.43,87.03 386.31,87.03 383.2,87.03" fill="#b3ae57"/>
<polygon points="383.2,75.61 386.31,75.43 389.43,75.15 392.54,74.8 395.65,74.4 398.76,73.96 401.88,73.48 404.99,72.96 408.1,72.42 411.21,71.85 414.32,71.25 417.44,70.63 420.55,69.99 423.66,69.32 426.77,68.63 429.89,67.92 433,67.2 433,86.57 429.89,86.57 426.77,86.57 423.66,86.57 420.55,86.57 417.44,86.57 414.32,86.57 411.21,86.57 408.1,86.57 404.99,86.57 401.88,86.57 398.76,86.57 395.65,86.57 392.54,86.57 389.43,86.57 386.31,86.57 383.2,86.57" fill="#9da552"/>
<polygon points="383.2,76.68 386.31,76.55 389.43,76.35 392.54,76.1 395.65,75.81 398.76,75.48 401.88,75.14 404.99,74.76 408.1,74.37 411.21,73.96 414.32,73.52 417.44,73.07 420.55,72.61 423.66,72.12 426.77,71.63 429.89,71.11 433,70.59 433,86.06 429.89,86.06 426.77,86.06 423.66,86.06 420.55,86.06 417.44,86.06 414.32,86.06 411.21,86.06 408.1,86.06 404.99,86.06 401.88,86.06 398.76,86.06 395.65,86.06 392.54,86.06 389.43,86.06 386.31,86.06 383.2,86.06" fill="#889c4e"/>
<polygon points="383.2,77.67 386.31,77.59 389.43,77.46 392.54,77.3 395.65,77.11 398.76,76.9 401.88,76.67 404.99,76.43 408.1,76.18 411.21,75.91 414.32,75.63 417.44,75.34 420.55,75.04 423.66,74.72 426.77,74.4 429.89,74.07 433,73.73 433,85.5 429.89,85.5 426.77,85.5 423.66,85.5 420.55,85.5 417.44,85.5 414.32,85.5 411.21,85.5 408.1,85.5 404.99,85.5 401.88,85.5 398.76,85.5 395.65,85.5 392.54,85.5 389.43,85.5 386.31,85.5 383.2,85.5" fill="#72944a"/>
<polygon points="390.52,81.47 393.17,80.4 395.83,79.28 398.48,78.24 401.14,78.15 403.79,78.05 406.45,77.95 409.1,77.84 411.76,77.73 414.41,77.61 417.07,77.49 419.72,77.36 422.38,77.24 425.03,77.1 427.69,76.97 430.34,76.83 433,76.69 433,84.92 430.34,84.92 427.69,84.92 425.03,84.92 422.38,84.92 419.72,84.92 417.07,84.92 414.41,84.92 411.76,84.92 409.1,84.92 406.45,84.92 403.79,84.92 401.14,84.92 398.48,84.92 395.83,84.16 393.17,83.3 390.52,82.44" fill="#5d8b46"/>
<polygon points="398.14,81.62 400.32,81.02 402.5,80.41 404.68,79.81 406.86,79.5 409.03,79.5 411.21,79.5 413.39,79.5 415.57,79.5 417.75,79.5 419.93,79.5 422.11,79.5 424.28,79.5 426.46,79.5 428.64,79.5 430.82,79.5 433,79.5 433,84.3 430.82,84.3 428.64,84.3 426.46,84.3 424.28,84.3 422.11,84.3 419.93,84.3 417.75,84.3 415.57,84.3 413.39,84.3 411.21,84.3 409.03,84.3 406.86,84.3 404.68,84.02 402.5,83.46 400.32,82.9 398.14,82.34" fill="#478341"/>
<polygon points="383.2,85.19 384.2,85.19 384.2,85.32 385.2,85.32 385.2,85.75 386.2,85.75 386.2,85.44 387.2,85.44 387.2,87.57 388.2,87.57 388.2,87.57 389.2,87.57 389.2,85.8 390.2,85.8 390.2,87.25 391.2,87.25 391.2,84.16 392.2,84.16 392.2,86.82 393.2,86.82 393.2,87.41 394.2,87.41 394.2,84.75 395.2,84.75 395.2,87.35 396.2,87.35 396.2,85.28 397.2,85.28 397.2,87.13 398.2,87.13 398.2,87.67 399.2,87.67 399.2,87.7 400.2,87.7 400.2,87.38 401.2,87.38 401.2,84.41 402.2,84.41 402.2,86.12 403.2,86.12 403.2,86.34 404.2,86.34 404.2,87.18 405.2,87.18 405.2,87.02 406.2,87.02 406.2,84.88 407.2,84.88 407.2,86.77 408.2,86.77 408.2,87.64 409.2,87.64 409.2,87.1 410.2,87.1 410.2,87.2 411.2,87.2 411.2,85.54 412.2,85.54 412.2,83.67 413.2,83.67 413.2,86.11 414.2,86.11 414.2,85.68 415.2,85.68 415.2,84.41 416.2,84.41 416.2,83.77 417.2,83.77 417.2,83.15 418.2,83.15 418.2,85.59 419.2,85.59 419.2,82.79 420.2,82.79 420.2,84.47 421.2,84.47 421.2,85.54 422.2,85.54 422.2,85.43 423.2,85.43 423.2,86.2 424.2,86.2 424.2,83.47 425.2,83.47 425.2,87.57 426.2,87.57 426.2,84.62 427.2,84.62 427.2,87.55 428.2,87.55 428.2,87.04 429.2,87.04 429.2,86.58 430.2,86.58 430.2,84.98 431.2,84.98 431.2,86.59 432.2,86.59 432.2,86.42 433,86.42 433,88.3 383.2,88.3" fill="#ffcc66" opacity="0.28"/>
<polygon points="383.2,86.37 384.2,86.37 384.2,86.13 385.2,86.13 385.2,87.49 386.2,87.49 386.2,86.02 387.2,86.02 387.2,87.45 388.2,87.45 388.2,86.4 389.2,86.4 389.2,87.35 390.2,87.35 390.2,86.25 391.2,86.25 391.2,85.98 392.2,85.98 392.2,85.93 393.2,85.93 393.2,86.29 394.2,86.29 394.2,86.54 395.2,86.54 395.2,87.66 396.2,87.66 396.2,86.26 397.2,86.26 397.2,87.47 398.2,87.47 398.2,86.53 399.2,86.53 399.2,87.6 400.2,87.6 400.2,87.7 401.2,87.7 401.2,86.22 402.2,86.22 402.2,87.44 403.2,87.44 403.2,86.77 404.2,86.77 404.2,85.7 405.2,85.7 405.2,87.61 406.2,87.61 406.2,87.6 407.2,87.6 407.2,86.15 408.2,86.15 408.2,87.59 409.2,87.59 409.2,85.58 410.2,85.58 410.2,85.74 411.2,85.74 411.2,85.86 412.2,85.86 412.2,87.43 413.2,87.43 413.2,87.69 414.2,87.69 414.2,87.04 415.2,87.04 415.2,87.7 416.2,87.7 416.2,86.11 417.2,86.11 417.2,85.52 418.2,85.52 418.2,87.52 419.2,87.52 419.2,86.33 420.2,86.33 420.2,87.46 421.2,87.46 421.2,86.55 422.2,86.55 422.2,85.76 423.2,85.76 423.2,86.53 424.2,86.53 424.2,86.22 425.2,86.22 425.2,87.64 426.2,87.64 426.2,85.91 427.2,85.91 427.2,86.39 428.2,86.39 428.2,86.82 429.2,86.82 429.2,87.57 430.2,87.57 430.2,86.92 431.2,86.92 431.2,87.22 432.2,87.22 432.2,86.91 433,86.91 433,88.3 383.2,88.3" fill="#ffcc66" opacity="0.35"/>
<polygon points="383.2,121 386.31,120.59 389.43,119.91 392.54,119.08 395.65,118.13 398.76,117.08 401.88,115.93 404.99,114.71 408.1,113.42 411.21,112.06 414.32,110.64 417.44,109.16 420.55,107.63 423.66,106.05 426.77,104.41 429.89,102.73 433,101 433,137.2 429.89,137.2 426.77,137.2 423.66,137.2 420.55,137.2 417.44,137.2 414.32,137.2 411.21,137.2 408.1,137.2 404.99,137.2 401.88,137.2 398.76,137.2 395.65,137.2 392.54,137.2 389.43,137.2 386.31,137.2 383.2,137.2" fill="#debf5f"/>
<polygon points="383.2,123.18 386.31,122.87 389.43,122.37 392.54,121.75 395.65,121.04 398.76,120.26 401.88,119.41 404.99,118.5 408.1,117.54 411.21,116.53 414.32,115.47 417.44,114.37 420.55,113.23 423.66,112.05 426.77,110.84 429.89,109.58 433,108.3 433,136.97 429.89,136.97 426.77,136.97 423.66,136.97 420.55,136.97 417.44,136.97 414.32,136.97 411.21,136.97 408.1,136.97 404.99,136.97 401.88,136.97 398.76,136.97 395.65,136.97 392.54,136.97 389.43,136.97 386.31,136.97 383.2,136.97" fill="#c8b65b"/>
<polygon points="383.2,124.54 386.31,124.3 389.43,123.9 392.54,123.42 395.65,122.86 398.76,122.24 401.88,121.58 404.99,120.87 408.1,120.11 411.21,119.32 414.32,118.49 417.44,117.62 420.55,116.73 423.66,115.8 426.77,114.85 429.89,113.87 433,112.86 433,136.63 429.89,136.63 426.77,136.63 423.66,136.63 420.55,136.63 417.44,136.63 414.32,136.63 411.21,136.63 408.1,136.63 404.99,136.63 401.88,136.63 398.76,136.63 395.65,136.63 392.54,136.63 389.43,136.63 386.31,136.63 383.2,136.63" fill="#b3ae57"/>
<polygon points="383.2,125.7 386.31,125.51 389.43,125.21 392.54,124.84 395.65,124.41 398.76,123.94 401.88,123.43 404.99,122.88 408.1,122.31 411.21,121.7 414.32,121.06 417.44,120.4 420.55,119.72 423.66,119.01 426.77,118.27 429.89,117.52 433,116.75 433,136.24 429.89,136.24 426.77,136.24 423.66,136.24 420.55,136.24 417.44,136.24 414.32,136.24 411.21,136.24 408.1,136.24 404.99,136.24 401.88,136.24 398.76,136.24 395.65,136.24 392.54,136.24 389.43,136.24 386.31,136.24 383.2,136.24" fill="#9da552"/>
<polygon points="383.2,126.75 386.31,126.61 389.43,126.39 392.54,126.12 395.65,125.81 398.76,125.47 401.88,125.1 404.99,124.71 408.1,124.29 411.21,123.85 414.32,123.39 417.44,122.91 420.55,122.41 423.66,121.9 426.77,121.37 429.89,120.82 433,120.26 433,135.8 429.89,135.8 426.77,135.8 423.66,135.8 420.55,135.8 417.44,135.8 414.32,135.8 411.21,135.8 408.1,135.8 404.99,135.8 401.88,135.8 398.76,135.8 395.65,135.8 392.54,135.8 389.43,135.8 386.31,135.8 383.2,135.8" fill="#889c4e"/>
<polygon points="383.2,127.72 386.31,127.63 389.43,127.49 392.54,127.31 395.65,127.11 398.76,126.89 401.88,126.65 404.99,126.4 408.1,126.13 411.21,125.84 414.32,125.54 417.44,125.23 420.55,124.91 423.66,124.58 426.77,124.23 429.89,123.88 433,123.52 433,135.33 429.89,135.33 426.77,135.33 423.66,135.33 420.55,135.33 417.44,135.33 414.32,135.33 411.21,135.33 408.1,135.33 404.99,135.33 401.88,135.33 398.76,135.33 395.65,135.33 392.54,135.33 389.43,135.33 386.31,135.33 383.2,135.33" fill="#72944a"/>
<polygon points="390.52,131.47 393.17,130.4 395.83,129.28 398.48,128.24 401.14,128.14 403.79,128.04 406.45,127.93 409.1,127.81 411.76,127.69 414.41,127.57 417.07,127.44 419.72,127.31 422.38,127.17 425.03,127.03 427.69,126.88 430.34,126.74 433,126.58 433,134.83 430.34,134.83 427.69,134.83 425.03,134.83 422.38,134.83 419.72,134.83 417.07,134.83 414.41,134.83 411.76,134.83 409.1,134.83 406.45,134.83 403.79,134.83 401.14,134.83 398.48,134.83 395.83,134.09 393.17,133.26 390.52,132.42" fill="#5d8b46"/>
<polygon points="398.14,131.62 400.32,131.02 402.5,130.41 404.68,129.81 406.86,129.5 409.03,129.5 411.21,129.5 413.39,129.5 415.57,129.5 417.75,129.5 419.93,129.5 422.11,129.5 424.28,129.5 426.46,129.5 428.64,129.5 430.82,129.5 433,129.5 433,134.3 430.82,134.3 428.64,134.3 426.46,134.3 424.28,134.3 422.11,134.3 419.93,134.3 417.75,134.3 415.57,134.3 413.39,134.3 411.21,134.3 409.03,134.3 406.86,134.3 404.68,134.02 402.5,133.46 400.32,132.9 398.14,132.34" fill="#478341"/>
<polygon points="383.2,136.6 384.2,136.6 384.2,136.56 385.2,136.56 385.2,136.84 386.2,136.84 386.2,135.94 387.2,135.94 387.2,135.45 388.2,135.45 388.2,136.12 389.2,136.12 389.2,137.17 390.2,137.17 390.2,134.93 391.2,134.93 391.2,134.93 392.2,134.93 392.2,137.14 393.2,137.14 393.2,136.11 394.2,136.11 394.2,133.22 395.2,133.22 395.2,137.18 396.2,137.18 396.2,136.52 397.2,136.52 397.2,134.24 398.2,134.24 398.2,132.63 399.2,132.63 399.2,136.53 400.2,136.53 400.2,136.69 401.2,136.69 401.2,132.49 402.2,132.49 402.2,137.18 403.2,137.18 403.2,135.38 404.2,135.38 404.2,133.19 405.2,133.19 405.2,133.99 406.2,133.99 406.2,132.73 407.2,132.73 407.2,135.07 408.2,135.07 408.2,134.34 409.2,134.34 409.2,137.2 410.2,137.2 410.2,137.01 411.2,137.01 411.2,135.4 412.2,135.4 412.2,133.41 413.2,133.41 413.2,135.51 414.2,135.51 414.2,136.03 415.2,136.03 415.2,135.03 416.2,135.03 416.2,132.52 417.2,132.52 417.2,136.85 418.2,136.85 418.2,136.2 419.2,136.2 419.2,136.93 420.2,136.93 420.2,132.9 421.2,132.9 421.2,136.77 422.2,136.77 422.2,135.68 423.2,135.68 423.2,137.12 424.2,137.12 424.2,135.23 425.2,135.23 425.2,135.62 426.2,135.62 426.2,133.64 427.2,133.64 427.2,136.59 428.2,136.59 428.2,133.76 429.2,133.76 429.2,135.77 430.2,135.77 430.2,136.05 431.2,136.05 431.2,133.31 432.2,133.31 432.2,136.32 433,136.32 433,137.8 383.2,137.8" fill="#ffcc66" opacity="0.28"/>
<polygon points="383.2,136.93 384.2,136.93 384.2,137.15 385.2,137.15 385.2,135.47 386.2,135.47 386.2,135.35 387.2,135.35 387.2,135.68 388.2,135.68 388.2,137.16 389.2,137.16 389.2,136.51 390.2,136.51 390.2,135.78 391.2,135.78 391.2,136.01 392.2,136.01 392.2,135.44 393.2,135.44 393.2,137.14 394.2,137.14 394.2,137.16 395.2,137.16 395.2,135.18 396.2,135.18 396.2,136.03 397.2,136.03 397.2,136.9 398.2,136.9 398.2,135.08 399.2,135.08 399.2,136.61 400.2,136.61 400.2,136.73 401.2,136.73 401.2,136.55 402.2,136.55 402.2,137.18 403.2,137.18 403.2,136.94 404.2,136.94 404.2,135.61 405.2,135.61 405.2,135.45 406.2,135.45 406.2,135.75 407.2,135.75 407.2,135.16 408.2,135.16 408.2,136.22 409.2,136.22 409.2,136.61 410.2,136.61 410.2,135.34 411.2,135.34 411.2,136.55 412.2,136.55 412.2,135 413.2,135 413.2,135.25 414.2,135.25 414.2,136.76 415.2,136.76 415.2,137.2 416.2,137.2 416.2,136.25 417.2,136.25 417.2,136.46 418.2,136.46 418.2,136.89 419.2,136.89 419.2,137.19 420.2,137.19 420.2,136.05 421.2,136.05 421.2,136.6 422.2,136.6 422.2,137.07 423.2,137.07 423.2,136.42 424.2,136.42 424.2,136.58 425.2,136.58 425.2,136.32 426.2,136.32 426.2,136.21 427.2,136.21 427.2,135.7 428.2,135.7 428.2,137.14 429.2,137.14 429.2,137.05 430.2,137.05 430.2,136.63 431.2,136.63 431.2,135.43 432.2,135.43 432.2,136.92 433,136.92 433,137.8 383.2,137.8" fill="#ffcc66" opacity="0.35"/>
<polygon points="383.2,171 386.31,170.63 389.43,170.02 392.54,169.27 395.65,168.42 398.76,167.47 401.88,166.44 404.99,165.34 408.1,164.18 411.21,162.96 414.32,161.68 417.44,160.35 420.55,158.97 423.66,157.54 426.77,156.07 429.89,154.56 433,153 433,188.3 429.89,188.3 426.77,188.3 423.66,188.3 420.55,188.3 417.44,188.3 414.32,188.3 411.21,188.3 408.1,188.3 404.99,188.3 401.88,188.3 398.76,188.3 395.65,188.3 392.54,188.3 389.43,188.3 386.31,188.3 383.2,188.3" fill="#debf5f"/>
<polygon points="383.2,173.25 386.31,172.98 389.43,172.53 392.54,171.97 395.65,171.33 398.76,170.63 401.88,169.86 404.99,169.05 408.1,168.18 411.21,167.27 414.32,166.32 417.44,165.33 420.55,164.3 423.66,163.24 426.77,162.15 429.89,161.02 433,159.86 433,188.01 429.89,188.01 426.77,188.01 423.66,188.01 420.55,188.01 417.44,188.01 414.32,188.01 411.21,188.01 408.1,188.01 404.99,188.01 401.88,188.01 398.76,188.01 395.65,188.01 392.54,188.01 389.43,188.01 386.31,188.01 383.2,188.01" fill="#c9b65b"/>
<polygon points="383.2,174.66 386.31,174.44 389.43,174.09 392.54,173.65 395.65,173.15 398.76,172.6 401.88,172 404.99,171.36 408.1,170.68 411.21,169.96 414.32,169.22 417.44,168.44 420.55,167.63 423.66,166.8 426.77,165.94 429.89,165.06 433,164.15 433,187.57 429.89,187.57 426.77,187.57 423.66,187.57 420.55,187.57 417.44,187.57 414.32,187.57 411.21,187.57 408.1,187.57 404.99,187.57 401.88,187.57 398.76,187.57 395.65,187.57 392.54,187.57 389.43,187.57 386.31,187.57 383.2,187.57" fill="#b4ae57"/>
<polygon points="383.2,175.86 386.31,175.7 389.43,175.42 392.54,175.09 395.65,174.71 398.76,174.28 401.88,173.82 404.99,173.33 408.1,172.81 411.21,172.26 414.32,171.69 417.44,171.1 420.55,170.48 423.66,169.84 426.77,169.18 429.89,168.51 433,167.81 433,187.07 429.89,187.07 426.77,187.07 423.66,187.07 420.55,187.07 417.44,187.07 414.32,187.07 411.21,187.07 408.1,187.07 404.99,187.07 401.88,187.07 398.76,187.07 395.65,187.07 392.54,187.07 389.43,187.07 386.31,187.07 383.2,187.07" fill="#a0a653"/>
<polygon points="383.2,176.95 386.31,176.83 389.43,176.63 392.54,176.39 395.65,176.11 398.76,175.8 401.88,175.47 404.99,175.11 408.1,174.74 411.21,174.34 414.32,173.93 417.44,173.5 420.55,173.05 423.66,172.59 426.77,172.11 429.89,171.62 433,171.11 433,186.51 429.89,186.51 426.77,186.51 423.66,186.51 420.55,186.51 417.44,186.51 414.32,186.51 411.21,186.51 408.1,186.51 404.99,186.51 401.88,186.51 398.76,186.51 395.65,186.51 392.54,186.51 389.43,186.51 386.31,186.51 383.2,186.51" fill="#8b9e4f"/>
<polygon points="383.2,177.95 386.31,177.88 389.43,177.75 392.54,177.59 395.65,177.41 398.76,177.21 401.88,177 404.99,176.77 408.1,176.52 411.21,176.27 414.32,176 417.44,175.72 420.55,175.43 423.66,175.13 426.77,174.82 429.89,174.5 433,174.18 433,185.91 429.89,185.91 426.77,185.91 423.66,185.91 420.55,185.91 417.44,185.91 414.32,185.91 411.21,185.91 408.1,185.91 404.99,185.91 401.88,185.91 398.76,185.91 395.65,185.91 392.54,185.91 389.43,185.91 386.31,185.91 383.2,185.91" fill="#76954b"/>
<polygon points="390.52,181.77 393.17,180.7 395.83,179.58 398.48,178.55 401.14,178.46 403.79,178.37 406.45,178.27 409.1,178.16 411.76,178.05 414.41,177.94 417.07,177.83 419.72,177.71 422.38,177.58 425.03,177.46 427.69,177.33 430.34,177.19 433,177.06 433,185.27 430.34,185.27 427.69,185.27 425.03,185.27 422.38,185.27 419.72,185.27 417.07,185.27 414.41,185.27 411.76,185.27 409.1,185.27 406.45,185.27 403.79,185.27 401.14,185.27 398.48,185.27 395.83,184.5 393.17,183.62 390.52,182.75" fill="#618d46"/>
<polygon points="398.14,181.93 400.32,181.32 402.5,180.71 404.68,180.11 406.86,179.8 409.03,179.8 411.21,179.8 413.39,179.8 415.57,179.8 417.75,179.8 419.93,179.8 422.11,179.8 424.28,179.8 426.46,179.8 428.64,179.8 430.82,179.8 433,179.8 433,184.6 430.82,184.6 428.64,184.6 426.46,184.6 424.28,184.6 422.11,184.6 419.93,184.6 417.75,184.6 415.57,184.6 413.39,184.6 411.21,184.6 409.03,184.6 406.86,184.6 404.68,184.32 402.5,183.76 400.32,183.2 398.14,182.65" fill="#4c8542"/>
<polygon points="383.2,185.75 384.2,185.75 384.2,188.27 385.2,188.27 385.2,185.21 386.2,185.21 386.2,186.75 387.2,186.75 387.2,184.83 388.2,184.83 388.2,186.23 389.2,186.23 389.2,185.5 390.2,185.5 390.2,183.65 391.2,183.65 391.2,188.14 392.2,188.14 392.2,186.66 393.2,186.66 393.2,186.16 394.2,186.16 394.2,186.93 395.2,186.93 395.2,188.3 396.2,188.3 396.2,185.77 397.2,185.77 397.2,185.2 398.2,185.2 398.2,183.78 399.2,183.78 399.2,188.21 400.2,188.21 400.2,187.72 401.2,187.72 401.2,187.24 402.2,187.24 402.2,184.59 403.2,184.59 403.2,186.96 404.2,186.96 404.2,186.62 405.2,186.62 405.2,186.95 406.2,186.95 406.2,185.64 407.2,185.64 407.2,187.16 408.2,187.16 408.2,185.04 409.2,185.04 409.2,185.9 410.2,185.9 410.2,188.02 411.2,188.02 411.2,186.68 412.2,186.68 412.2,184.55 413.2,184.55 413.2,186.14 414.2,186.14 414.2,188.24 415.2,188.24 415.2,184.73 416.2,184.73 416.2,188.16 417.2,188.16 417.2,184.64 418.2,184.64 418.2,183.82 419.2,183.82 419.2,183.35 420.2,183.35 420.2,187.72 421.2,187.72 421.2,186.01 422.2,186.01 422.2,184.27 423.2,184.27 423.2,185.26 424.2,185.26 424.2,187.2 425.2,187.2 425.2,187.72 426.2,187.72 426.2,183.52 427.2,183.52 427.2,183.49 428.2,183.49 428.2,183.32 429.2,183.32 429.2,188.29 430.2,188.29 430.2,184.71 431.2,184.71 431.2,188.14 432.2,188.14 432.2,183.34 433,183.34 433,188.9 383.2,188.9" fill="#ffcc66" opacity="0.28"/>
<polygon points="383.2,188.1 384.2,188.1 384.2,187.6 385.2,187.6 385.2,186.79 386.2,186.79 386.2,186.79 387.2,186.79 387.2,187.73 388.2,187.73 388.2,187.25 389.2,187.25 389.2,186.39 390.2,186.39 390.2,186.49 391.2,186.49 391.2,187.07 392.2,187.07 392.2,188.3 393.2,188.3 393.2,186.98 394.2,186.98 394.2,188 395.2,188 395.2,187.08 396.2,187.08 396.2,188.3 397.2,188.3 397.2,186.57 398.2,186.57 398.2,187.73 399.2,187.73 399.2,188.03 400.2,188.03 400.2,187.6 401.2,187.6 401.2,186.15 402.2,186.15 402.2,187.31 403.2,187.31 403.2,186.9 404.2,186.9 404.2,187.53 405.2,187.53 405.2,187.46 406.2,187.46 406.2,187.82 407.2,187.82 407.2,187.59 408.2,187.59 408.2,187.04 409.2,187.04 409.2,188.29 410.2,188.29 410.2,187.01 411.2,187.01 411.2,187.39 412.2,187.39 412.2,188.29 413.2,188.29 413.2,186.33 414.2,186.33 414.2,186.96 415.2,186.96 415.2,187.22 416.2,187.22 416.2,188.12 417.2,188.12 417.2,188.14 418.2,188.14 418.2,187.39 419.2,187.39 419.2,187.4 420.2,187.4 420.2,187.33 421.2,187.33 421.2,187.88 422.2,187.88 422.2,188.01 423.2,188.01 423.2,186.74 424.2,186.74 424.2,187.29 425.2,187.29 425.2,186.81 426.2,186.81 426.2,188.06 427.2,188.06 427.2,187.72 428.2,187.72 428.2,187.32 429.2,187.32 429.2,187.37 430.2,187.37 430.2,188.19 431.2,188.19 431.2,187.8 432.2,187.8 432.2,188.29 433,188.29 433,188.9 383.2,188.9" fill="#ffcc66" opacity="0.35"/>
<polygon points="383.2,220.8 386.31,220.54 389.43,220.02 392.54,219.3 395.65,218.43 398.76,217.41 401.88,216.26 404.99,214.99 408.1,213.61 411.21,212.12 414.32,210.52 417.44,208.83 420.55,207.04 423.66,205.16 426.77,203.19 429.89,201.14 433,199 433,238 429.89,238 426.77,238 423.66,238 420.55,238 417.44,238 414.32,238 411.21,238 408.1,238 404.99,238 401.88,238 398.76,238 395.65,238 392.54,238 389.43,238 386.31,238 383.2,238" fill="#debf5f"/>
<polygon points="383.2,223.85 386.31,223.67 389.43,223.3 392.54,222.8 395.65,222.19 398.76,221.48 401.88,220.67 404.99,219.78 408.1,218.81 411.21,217.77 414.32,216.65 417.44,215.46 420.55,214.21 423.66,212.89 426.77,211.51 429.89,210.07 433,208.58 433,237.82 429.89,237.82 426.77,237.82 423.66,237.82 420.55,237.82 417.44,237.82 414.32,237.82 411.21,237.82 408.1,237.82 404.99,237.82 401.88,237.82 398.76,237.82 395.65,237.82 392.54,237.82 389.43,237.82 386.31,237.82 383.2,237.82" fill="#cab75b"/>
<polygon points="383.2,225.49 386.31,225.35 389.43,225.07 392.54,224.68 395.65,224.21 398.76,223.66 401.88,223.04 404.99,222.35 408.1,221.61 411.21,220.8 414.32,219.94 417.44,219.03 420.55,218.06 423.66,217.05 426.77,215.98 429.89,214.87 433,213.72 433,237.57 429.89,237.57 426.77,237.57 423.66,237.57 420.55,237.57 417.44,237.57 414.32,237.57 411.21,237.57 408.1,237.57 404.99,237.57 401.88,237.57 398.76,237.57 395.65,237.57 392.54,237.57 389.43,237.57 386.31,237.57 383.2,237.57" fill="#b6af57"/>
<polygon points="383.2,226.83 386.31,226.73 389.43,226.51 392.54,226.22 395.65,225.86 398.76,225.45 401.88,224.98 404.99,224.46 408.1,223.89 411.21,223.28 414.32,222.63 417.44,221.94 420.55,221.21 423.66,220.44 426.77,219.64 429.89,218.8 433,217.92 433,237.27 429.89,237.27 426.77,237.27 423.66,237.27 420.55,237.27 417.44,237.27 414.32,237.27 411.21,237.27 408.1,237.27 404.99,237.27 401.88,237.27 398.76,237.27 395.65,237.27 392.54,237.27 389.43,237.27 386.31,237.27 383.2,237.27" fill="#a2a753"/>
<polygon points="383.2,228.01 386.31,227.93 389.43,227.78 392.54,227.57 395.65,227.31 398.76,227.02 401.88,226.68 404.99,226.31 408.1,225.9 411.21,225.46 414.32,225 417.44,224.5 420.55,223.98 423.66,223.43 426.77,222.85 429.89,222.25 433,221.62 433,236.94 429.89,236.94 426.77,236.94 423.66,236.94 420.55,236.94 417.44,236.94 414.32,236.94 411.21,236.94 408.1,236.94 404.99,236.94 401.88,236.94 398.76,236.94 395.65,236.94 392.54,236.94 389.43,236.94 386.31,236.94 383.2,236.94" fill="#8e9f4f"/>
<polygon points="383.2,229.08 386.31,229.03 389.43,228.93 392.54,228.8 395.65,228.63 398.76,228.44 401.88,228.22 404.99,227.99 408.1,227.73 411.21,227.44 414.32,227.14 417.44,226.83 420.55,226.49 423.66,226.13 426.77,225.76 429.89,225.38 433,224.97 433,236.58 429.89,236.58 426.77,236.58 423.66,236.58 420.55,236.58 417.44,236.58 414.32,236.58 411.21,236.58 408.1,236.58 404.99,236.58 401.88,236.58 398.76,236.58 395.65,236.58 392.54,236.58 389.43,236.58 386.31,236.58 383.2,236.58" fill="#7a974b"/>
<polygon points="383.2,230.07 386.31,230.05 389.43,230 392.54,229.93 395.65,229.85 398.76,229.76 401.88,229.66 404.99,229.54 408.1,229.41 411.21,229.28 414.32,229.13 417.44,228.98 420.55,228.82 423.66,228.64 426.77,228.47 429.89,228.28 433,228.08 433,236.2 429.89,236.2 426.77,236.2 423.66,236.2 420.55,236.2 417.44,236.2 414.32,236.2 411.21,236.2 408.1,236.2 404.99,236.2 401.88,236.2 398.76,236.2 395.65,236.2 392.54,236.2 389.43,236.2 386.31,236.2 383.2,236.2" fill="#668f47"/>
<polygon points="383.2,231 386.31,231 389.43,231 392.54,231 395.65,231 398.76,231 401.88,231 404.99,231 408.1,231 411.21,231 414.32,231 417.44,231 420.55,231 423.66,231 426.77,231 429.89,231 433,231 433,235.8 429.89,235.8 426.77,235.8 423.66,235.8 420.55,235.8 417.44,235.8 414.32,235.8 411.21,235.8 408.1,235.8 404.99,235.8 401.88,235.8 398.76,235.8 395.65,235.8 392.54,235.8 389.43,235.8 386.31,235.8 383.2,235.8" fill="#528743"/>
<polygon points="373.5,168.7 374.11,168.64 374.71,168.57 375.32,168.51 375.93,168.45 376.53,168.39 377.14,168.32 377.74,168.26 378.35,168.2 378.96,168.14 379.56,168.07 380.17,168.01 380.77,167.95 381.38,167.89 381.99,167.82 382.59,167.76 383.2,167.7 383.2,188.5 382.59,188.5 381.99,188.5 381.38,188.5 380.77,188.5 380.17,188.5 379.56,188.5 378.96,188.5 378.35,188.5 377.74,188.5 377.14,188.5 376.53,188.5 375.93,188.5 375.32,188.5 374.71,188.5 374.11,188.5 373.5,188.5" fill="#debf5f"/>
<polygon points="373.5,172.08 374.11,172.04 374.71,171.99 375.32,171.95 375.93,171.91 376.53,171.86 377.14,171.82 377.74,171.77 378.35,171.73 378.96,171.69 379.56,171.64 380.17,171.6 380.77,171.56 381.38,171.51 381.99,171.47 382.59,171.42 383.2,171.38 383.2,188.21 382.59,188.21 381.99,188.21 381.38,188.21 380.77,188.21 380.17,188.21 379.56,188.21 378.96,188.21 378.35,188.21 377.74,188.21 377.14,188.21 376.53,188.21 375.93,188.21 375.32,188.21 374.71,188.21 374.11,188.21 373.5,188.21" fill="#d0b95d"/>
<polygon points="373.5,173.9 374.11,173.86 374.71,173.83 375.32,173.8 375.93,173.76 376.53,173.73 377.14,173.69 377.74,173.66 378.35,173.63 378.96,173.59 379.56,173.56 380.17,173.53 380.77,173.49 381.38,173.46 381.99,173.42 382.59,173.39 383.2,173.36 383.2,187.77 382.59,187.77 381.99,187.77 381.38,187.77 380.77,187.77 380.17,187.77 379.56,187.77 378.96,187.77 378.35,187.77 377.74,187.77 377.14,187.77 376.53,187.77 375.93,187.77 375.32,187.77 374.71,187.77 374.11,187.77 373.5,187.77" fill="#c3b45a"/>
<polygon points="373.5,175.38 374.11,175.36 374.71,175.33 375.32,175.31 375.93,175.28 376.53,175.25 377.14,175.23 377.74,175.2 378.35,175.18 378.96,175.15 379.56,175.13 380.17,175.1 380.77,175.08 381.38,175.05 381.99,175.02 382.59,175 383.2,174.97 383.2,187.27 382.59,187.27 381.99,187.27 381.38,187.27 380.77,187.27 380.17,187.27 379.56,187.27 378.96,187.27 378.35,187.27 377.74,187.27 377.14,187.27 376.53,187.27 375.93,187.27 375.32,187.27 374.71,187.27 374.11,187.27 373.5,187.27" fill="#b5af57"/>
<polygon points="373.5,176.69 374.11,176.67 374.71,176.65 375.32,176.63 375.93,176.61 376.53,176.6 377.14,176.58 377.74,176.56 378.35,176.54 378.96,176.52 379.56,176.5 380.17,176.49 380.77,176.47 381.38,176.45 381.99,176.43 382.59,176.41 383.2,176.39 383.2,186.71 382.59,186.71 381.99,186.71 381.38,186.71 380.77,186.71 380.17,186.71 379.56,186.71 378.96,186.71 378.35,186.71 377.74,186.71 377.14,186.71 376.53,186.71 375.93,186.71 375.32,186.71 374.71,186.71 374.11,186.71 373.5,186.71" fill="#a8a955"/>
<polygon points="373.5,177.87 374.11,177.86 374.71,177.85 375.32,177.84 375.93,177.83 376.53,177.81 377.14,177.8 377.74,177.79 378.35,177.78 378.96,177.77 379.56,177.75 380.17,177.74 380.77,177.73 381.38,177.72 381.99,177.71 382.59,177.7 383.2,177.68 383.2,186.11 382.59,186.11 381.99,186.11 381.38,186.11 380.77,186.11 380.17,186.11 379.56,186.11 378.96,186.11 378.35,186.11 377.74,186.11 377.14,186.11 376.53,186.11 375.93,186.11 375.32,186.11 374.71,186.11 374.11,186.11 373.5,186.11" fill="#9aa452"/>
<polygon points="374.93,181.97 375.44,181.76 375.96,181.56 376.48,181.35 376.99,181.15 377.51,180.94 378.03,180.73 378.55,180.52 379.06,180.32 379.58,180.11 380.1,179.9 380.61,179.69 381.13,179.48 381.65,179.26 382.17,179.05 382.68,178.88 383.2,178.88 383.2,185.47 382.68,185.47 382.17,185.34 381.65,185.17 381.13,185 380.61,184.82 380.1,184.65 379.58,184.48 379.06,184.31 378.55,184.14 378.03,183.97 377.51,183.8 376.99,183.63 376.48,183.46 375.96,183.29 375.44,183.12 374.93,182.95" fill="#8d9e4f"/>
<polygon points="376.41,182.12 376.83,182.01 377.26,181.89 377.68,181.77 378.11,181.65 378.53,181.54 378.96,181.42 379.38,181.3 379.8,181.18 380.23,181.06 380.65,180.95 381.08,180.83 381.5,180.71 381.93,180.59 382.35,180.47 382.78,180.36 383.2,180.24 383.2,184.58 382.78,184.47 382.35,184.36 381.93,184.25 381.5,184.15 381.08,184.04 380.65,183.93 380.23,183.82 379.8,183.71 379.38,183.6 378.96,183.5 378.53,183.39 378.11,183.28 377.68,183.17 377.26,183.06 376.83,182.95 376.41,182.84" fill="#80994c"/>
<polygon points="373.5,186.18 374.5,186.18 374.5,184.57 375.5,184.57 375.5,187.88 376.5,187.88 376.5,187.92 377.5,187.92 377.5,185.99 378.5,185.99 378.5,187.87 379.5,187.87 379.5,184.33 380.5,184.33 380.5,187.46 381.5,187.46 381.5,185.52 382.5,185.52 382.5,186.83 383.2,186.83 383.2,189.1 373.5,189.1" fill="#ffcc66" opacity="0.28"/>
<polygon points="373.5,188.39 374.5,188.39 374.5,187.26 375.5,187.26 375.5,187.1 376.5,187.1 376.5,187.6 377.5,187.6 377.5,188.22 378.5,188.22 378.5,188.11 379.5,188.11 379.5,187.45 380.5,187.45 380.5,186.94 381.5,186.94 381.5,188.48 382.5,188.48 382.5,188.47 383.2,188.47 383.2,189.1 373.5,189.1" fill="#ffcc66" opacity="0.35"/>
<polygon points="349.8,170.3 351.28,169.23 352.76,168.16 354.24,167.09 355.73,166.03 357.21,164.96 358.69,163.89 360.17,162.82 361.65,161.75 363.13,160.68 364.61,159.61 366.09,158.54 367.57,157.47 369.06,156.41 370.54,155.34 372.02,154.27 373.5,153.2 373.5,188.5 372.02,188.5 370.54,188.5 369.06,188.5 367.57,188.5 366.09,188.5 364.61,188.5 363.13,188.5 361.65,188.5 360.17,188.5 358.69,188.5 357.21,188.5 355.73,188.5 354.24,188.5 352.76,188.5 351.28,188.5 349.8,188.5" fill="#debf5f"/>
<polygon points="349.8,172.13 351.28,171.28 352.76,170.44 354.24,169.6 355.73,168.75 357.21,167.91 358.69,167.06 360.17,166.22 361.65,165.38 363.13,164.53 364.61,163.69 366.09,162.84 367.57,162 369.06,161.16 370.54,160.31 372.02,159.47 373.5,158.62 373.5,188.19 372.02,188.19 370.54,188.19 369.06,188.19 367.57,188.19 366.09,188.19 364.61,188.19 363.13,188.19 361.65,188.19 360.17,188.19 358.69,188.19 357.21,188.19 355.73,188.19 354.24,188.19 352.76,188.19 351.28,188.19 349.8,188.19" fill="#c3b45a"/>
<polygon points="349.8,173.38 351.28,172.69 352.76,171.99 354.24,171.3 355.73,170.61 357.21,169.92 358.69,169.23 360.17,168.54 361.65,167.85 363.13,167.16 364.61,166.47 366.09,165.78 367.57,165.09 369.06,164.39 370.54,163.7 372.02,163.01 373.5,162.32 373.5,187.72 372.02,187.72 370.54,187.72 369.06,187.72 367.57,187.72 366.09,187.72 364.61,187.72 363.13,187.72 361.65,187.72 360.17,187.72 358.69,187.72 357.21,187.72 355.73,187.72 354.24,187.72 352.76,187.72 351.28,187.72 349.8,187.72" fill="#a8a955"/>
<polygon points="349.8,174.47 351.28,173.91 352.76,173.36 354.24,172.8 355.73,172.24 357.21,171.69 358.69,171.13 360.17,170.57 361.65,170.02 363.13,169.46 364.61,168.9 366.09,168.35 367.57,167.79 369.06,167.23 370.54,166.68 372.02,166.12 373.5,165.56 373.5,187.19 372.02,187.19 370.54,187.19 369.06,187.19 367.57,187.19 366.09,187.19 364.61,187.19 363.13,187.19 361.65,187.19 360.17,187.19 358.69,187.19 357.21,187.19 355.73,187.19 354.24,187.19 352.76,187.19 351.28,187.19 349.8,187.19" fill="#8e9f4f"/>
<polygon points="349.8,175.47 351.28,175.04 352.76,174.61 354.24,174.17 355.73,173.74 357.21,173.31 358.69,172.87 360.17,172.44 361.65,172.01 363.13,171.57 364.61,171.14 366.09,170.71 367.57,170.27 369.06,169.84 370.54,169.41 372.02,168.97 373.5,168.54 373.5,186.59 372.02,186.59 370.54,186.59 369.06,186.59 367.57,186.59 366.09,186.59 364.61,186.59 363.13,186.59 361.65,186.59 360.17,186.59 358.69,186.59 357.21,186.59 355.73,186.59 354.24,186.59 352.76,186.59 351.28,186.59 349.8,186.59" fill="#73944a"/>
<polygon points="349.8,176.42 351.28,176.1 352.76,175.78 354.24,175.46 355.73,175.15 357.21,174.83 358.69,174.51 360.17,174.19 361.65,173.88 363.13,173.56 364.61,173.24 366.09,172.92 367.57,172.61 369.06,172.29 370.54,171.97 372.02,171.65 373.5,171.34 373.5,185.95 372.02,185.95 370.54,185.95 369.06,185.95 367.57,185.95 366.09,185.95 364.61,185.95 363.13,185.95 361.65,185.95 360.17,185.95 358.69,185.95 357.21,185.95 355.73,185.95 354.24,185.95 352.76,185.95 351.28,185.95 349.8,185.95" fill="#588945"/>
<polygon points="350.94,180.85 352.35,180.11 353.76,179.3 355.17,178.44 356.58,177.51 357.99,176.52 359.4,175.97 360.81,175.77 362.22,175.57 363.63,175.37 365.04,175.18 366.45,174.98 367.86,174.78 369.27,174.59 370.68,174.39 372.09,174.19 373.5,173.99 373.5,185.27 372.09,185.27 370.68,185.27 369.27,185.27 367.86,185.27 366.45,185.27 365.04,185.27 363.63,185.27 362.22,185.27 360.81,185.27 359.4,185.27 357.99,185.02 356.58,184.43 355.17,183.83 353.76,183.24 352.35,182.65 350.94,182.06" fill="#3d7e3f"/>
<polygon points="355.7,180.94 356.82,180.46 357.93,179.96 359.04,179.44 360.15,178.9 361.27,178.34 362.38,177.76 363.49,177.23 364.6,177.15 365.71,177.08 366.83,177 367.94,176.92 369.05,176.85 370.16,176.77 371.28,176.69 372.39,176.62 373.5,176.54 373.5,184.55 372.39,184.55 371.28,184.55 370.16,184.55 369.05,184.55 367.94,184.55 366.83,184.55 365.71,184.55 364.6,184.55 363.49,184.55 362.38,184.22 361.27,183.84 360.15,183.46 359.04,183.09 357.93,182.71 356.82,182.33 355.7,181.96" fill="#22743a"/>
<polygon points="360.47,181.12 361.28,180.9 362.09,180.67 362.91,180.45 363.72,180.22 364.54,179.99 365.35,179.77 366.17,179.54 366.98,179.31 367.8,179.09 368.61,179 369.43,179 370.24,179 371.06,179 371.87,179 372.69,179 373.5,179 373.5,183.8 372.69,183.8 371.87,183.8 371.06,183.8 370.24,183.8 369.43,183.8 368.61,183.8 367.8,183.72 366.98,183.51 366.17,183.3 365.35,183.09 364.54,182.89 363.72,182.68 362.91,182.47 362.09,182.26 361.28,182.05 360.47,181.84" fill="#086935"/>
<polygon points="349.8,185.78 350.8,185.78 350.8,188.2 351.8,188.2 351.8,187.35 352.8,187.35 352.8,186.65 353.8,186.65 353.8,184.46 354.8,184.46 354.8,185.63 355.8,185.63 355.8,188.3 356.8,188.3 356.8,186.95 357.8,186.95 357.8,186.49 358.8,186.49 358.8,187.2 359.8,187.2 359.8,188.28 360.8,188.28 360.8,187.74 361.8,187.74 361.8,188.49 362.8,188.49 362.8,185.29 363.8,185.29 363.8,187.46 364.8,187.46 364.8,185.54 365.8,185.54 365.8,183.67 366.8,183.67 366.8,185.11 367.8,185.11 367.8,185.62 368.8,185.62 368.8,187.08 369.8,187.08 369.8,184.06 370.8,184.06 370.8,186.45 371.8,186.45 371.8,185.98 372.8,185.98 372.8,188.42 373.5,188.42 373.5,189.1 349.8,189.1" fill="#ffcc66" opacity="0.28"/>
<polygon points="349.8,187.57 350.8,187.57 350.8,187.48 351.8,187.48 351.8,188.1 352.8,188.1 352.8,186.7 353.8,186.7 353.8,187.82 354.8,187.82 354.8,186.46 355.8,186.46 355.8,188.37 356.8,188.37 356.8,186.98 357.8,186.98 357.8,186.98 358.8,186.98 358.8,186.96 359.8,186.96 359.8,187.89 360.8,187.89 360.8,188.41 361.8,188.41 361.8,187.54 362.8,187.54 362.8,188.43 363.8,188.43 363.8,188.29 364.8,188.29 364.8,187.64 365.8,187.64 365.8,188.23 366.8,188.23 366.8,188.11 367.8,188.11 367.8,188.49 368.8,188.49 368.8,187.36 369.8,187.36 369.8,187.01 370.8,187.01 370.8,187.83 371.8,187.83 371.8,188 372.8,188 372.8,187.13 373.5,187.13 373.5,189.1 349.8,189.1" fill="#ffcc66" opacity="0.35"/>
<linearGradient id="g167" x1="0" y1="33.2" x2="0" y2="52.2" gradientUnits="userSpaceOnUse"><stop offset="0" stop-color="#ffcc66"/><stop offset="0.09" stop-color="#e0c060"/><stop offset="0.46" stop-color="#b2ad57"/><stop offset="0.65" stop-color="#73944a"/><stop offset="0.78" stop-color="#598a45"/><stop offset="0.88" stop-color="#99a352"/><stop offset="1" stop-color="#ffcc66"/></linearGradient>
<rect x="375.7" y="33.2" width="7.5" height="19" fill="url(#g167)"/>
<linearGradient id="g169" x1="0" y1="100.5" x2="0" y2="119" gradientUnits="userSpaceOnUse"><stop offset="0" stop-color="#ffcc66"/><stop offset="0.08" stop-color="#e0c060"/><stop offset="0.43" stop-color="#b2ad57"/><stop offset="0.62" stop-color="#73944a"/><stop offset="0.76" stop-color="#528743"/><stop offset="0.89" stop-color="#99a352"/><stop offset="1" stop-color="#ffcc66"/></linearGradient>
<rect x="375.7" y="100.5" width="7.5" height="18.5" fill="url(#g169)"/>
<polygon points="373.9,63.5 374.4,63.5 375.1,80 374.6,86 374,86 373.4,80" fill="#26753b"/>
<path d="M433 21.2 H444.3 A8.2 8.2 0 0 1 452.5 29.4 V29.4 A8.2 8.2 0 0 1 444.3 37.6 H433 Z" fill="#ccb85c"/>
<path d="M433 22.8 H442.8 A6.6 6.6 0 0 1 449.4 29.4 V29.4 A6.6 6.6 0 0 1 442.8 36 H433 Z" fill="#dbbe5f"/>
<path d="M433 24.3 H440.9 A5.1 5.1 0 0 1 446 29.4 V29.4 A5.1 5.1 0 0 1 440.9 34.5 H433 Z" fill="#edc562"/>
<path d="M433 25.8C444.33 26.16 444.33 32.64 433 33Z" fill="#ffcc66"/>
<path d="M433 50.7 H444.9 A7.6 7.6 0 0 1 452.5 58.3 V58.3 A7.6 7.6 0 0 1 444.9 65.9 H433 Z" fill="#ccb85c"/>
<path d="M433 52.3 H443.4 A6 6 0 0 1 449.4 58.3 V58.3 A6 6 0 0 1 443.4 64.3 H433 Z" fill="#dbbe5f"/>
<path d="M433 53.8 H441.5 A4.5 4.5 0 0 1 446 58.3 V58.3 A4.5 4.5 0 0 1 441.5 62.8 H433 Z" fill="#edc562"/>
<path d="M433 55.3C444.33 55.6 444.33 61 433 61.3Z" fill="#ffcc66"/>
<path d="M433 83.4 H442.9 A9.6 9.6 0 0 1 452.5 93 V93 A9.6 9.6 0 0 1 442.9 102.6 H433 Z" fill="#ccb85c"/>
<path d="M433 85 H441.4 A8 8 0 0 1 449.4 93 V93 A8 8 0 0 1 441.4 101 H433 Z" fill="#dbbe5f"/>
<path d="M433 86.5 H439.5 A6.5 6.5 0 0 1 446 93 V93 A6.5 6.5 0 0 1 439.5 99.5 H433 Z" fill="#edc562"/>
<path d="M433 88C444.33 88.5 444.33 97.5 433 98Z" fill="#ffcc66"/>
<path d="M433 117.2 H443.1 A9.4 9.4 0 0 1 452.5 126.6 V126.6 A9.4 9.4 0 0 1 443.1 136 H433 Z" fill="#ccb85c"/>
<path d="M433 118.8 H441.6 A7.8 7.8 0 0 1 449.4 126.6 V126.6 A7.8 7.8 0 0 1 441.6 134.4 H433 Z" fill="#dbbe5f"/>
<path d="M433 120.3 H439.7 A6.3 6.3 0 0 1 446 126.6 V126.6 A6.3 6.3 0 0 1 439.7 132.9 H433 Z" fill="#edc562"/>
<path d="M433 121.8C444.33 122.28 444.33 130.92 433 131.4Z" fill="#ffcc66"/>
<path d="M433 151.6 H443.9 A8.6 8.6 0 0 1 452.5 160.2 V160.2 A8.6 8.6 0 0 1 443.9 168.8 H433 Z" fill="#ccb85c"/>
<path d="M433 153.2 H442.4 A7 7 0 0 1 449.4 160.2 V160.2 A7 7 0 0 1 442.4 167.2 H433 Z" fill="#dbbe5f"/>
<path d="M433 154.7 H440.5 A5.5 5.5 0 0 1 446 160.2 V160.2 A5.5 5.5 0 0 1 440.5 165.7 H433 Z" fill="#edc562"/>
<path d="M433 156.2C444.33 156.6 444.33 163.8 433 164.2Z" fill="#ffcc66"/>
<path d="M433 185.7 H442.6 A9.9 9.9 0 0 1 452.5 195.6 V195.6 A9.9 9.9 0 0 1 442.6 205.5 H433 Z" fill="#ccb85c"/>
<path d="M433 187.3 H441.1 A8.3 8.3 0 0 1 449.4 195.6 V195.6 A8.3 8.3 0 0 1 441.1 203.9 H433 Z" fill="#dbbe5f"/>
<path d="M433 188.8 H439.2 A6.8 6.8 0 0 1 446 195.6 V195.6 A6.8 6.8 0 0 1 439.2 202.4 H433 Z" fill="#edc562"/>
<path d="M433 190.3C444.33 190.83 444.33 200.37 433 200.9Z" fill="#ffcc66"/>
<path d="M433 220.2 H443.2 A9.3 9.3 0 0 1 452.5 229.5 V229.5 A9.3 9.3 0 0 1 443.2 238.8 H433 Z" fill="#ccb85c"/>
<path d="M433 221.8 H441.7 A7.7 7.7 0 0 1 449.4 229.5 V229.5 A7.7 7.7 0 0 1 441.7 237.2 H433 Z" fill="#dbbe5f"/>
<path d="M433 223.3 H439.8 A6.2 6.2 0 0 1 446 229.5 V229.5 A6.2 6.2 0 0 1 439.8 235.7 H433 Z" fill="#edc562"/>
<path d="M433 224.8C444.33 225.27 444.33 233.73 433 234.2Z" fill="#ffcc66"/>
<path d="M433 41.8 H448.1 A3.5 3.5 0 0 1 451.6 45.3 V49.3 A3.5 3.5 0 0 1 448.1 52.8 H433 Z" fill="#abaa55"/>
<path d="M433 42.8 H446.8 A3 3 0 0 1 449.8 45.8 V49 A3 3 0 0 1 446.8 52 H433 Z" fill="#94a151"/>
<path d="M433 44.2 H445.9 A2.5 2.5 0 0 1 448.4 46.7 V48.3 A2.5 2.5 0 0 1 445.9 50.8 H433 Z" fill="#7a974b"/>
<path d="M433 45.8 H444.9 A1.6 1.6 0 0 1 446.5 47.4 V47.6 A1.6 1.6 0 0 1 444.9 49.2 H433 Z" fill="#6b9148"/>
<path d="M433 73.9 H448.1 A3.5 3.5 0 0 1 451.6 77.4 V81.4 A3.5 3.5 0 0 1 448.1 84.9 H433 Z" fill="#abaa55"/>
<path d="M433 74.9 H446.8 A3 3 0 0 1 449.8 77.9 V81.1 A3 3 0 0 1 446.8 84.1 H433 Z" fill="#94a151"/>
<path d="M433 76.3 H445.9 A2.5 2.5 0 0 1 448.4 78.8 V80.4 A2.5 2.5 0 0 1 445.9 82.9 H433 Z" fill="#7a974b"/>
<path d="M433 77.9 H444.9 A1.6 1.6 0 0 1 446.5 79.5 V79.7 A1.6 1.6 0 0 1 444.9 81.3 H433 Z" fill="#6b9148"/>
<path d="M433 107.6 H448.1 A3.5 3.5 0 0 1 451.6 111.1 V115.1 A3.5 3.5 0 0 1 448.1 118.6 H433 Z" fill="#abaa55"/>
<path d="M433 108.6 H446.8 A3 3 0 0 1 449.8 111.6 V114.8 A3 3 0 0 1 446.8 117.8 H433 Z" fill="#94a151"/>
<path d="M433 110 H445.9 A2.5 2.5 0 0 1 448.4 112.5 V114.1 A2.5 2.5 0 0 1 445.9 116.6 H433 Z" fill="#7a974b"/>
<path d="M433 111.6 H444.9 A1.6 1.6 0 0 1 446.5 113.2 V113.4 A1.6 1.6 0 0 1 444.9 115 H433 Z" fill="#6b9148"/>
<path d="M433 143.1 H448.1 A3.5 3.5 0 0 1 451.6 146.6 V150.6 A3.5 3.5 0 0 1 448.1 154.1 H433 Z" fill="#abaa55"/>
<path d="M433 144.1 H446.8 A3 3 0 0 1 449.8 147.1 V150.3 A3 3 0 0 1 446.8 153.3 H433 Z" fill="#94a151"/>
<path d="M433 145.5 H445.9 A2.5 2.5 0 0 1 448.4 148 V149.6 A2.5 2.5 0 0 1 445.9 152.1 H433 Z" fill="#7a974b"/>
<path d="M433 147.1 H444.9 A1.6 1.6 0 0 1 446.5 148.7 V148.9 A1.6 1.6 0 0 1 444.9 150.5 H433 Z" fill="#6b9148"/>
<path d="M433 175.6 H448.1 A3.5 3.5 0 0 1 451.6 179.1 V183.1 A3.5 3.5 0 0 1 448.1 186.6 H433 Z" fill="#abaa55"/>
<path d="M433 176.6 H446.8 A3 3 0 0 1 449.8 179.6 V182.8 A3 3 0 0 1 446.8 185.8 H433 Z" fill="#94a151"/>
<path d="M433 178 H445.9 A2.5 2.5 0 0 1 448.4 180.5 V182.1 A2.5 2.5 0 0 1 445.9 184.6 H433 Z" fill="#7a974b"/>
<path d="M433 179.6 H444.9 A1.6 1.6 0 0 1 446.5 181.2 V181.4 A1.6 1.6 0 0 1 444.9 183 H433 Z" fill="#6b9148"/>
<path d="M433 209.6 H448.1 A3.5 3.5 0 0 1 451.6 213.1 V217.1 A3.5 3.5 0 0 1 448.1 220.6 H433 Z" fill="#abaa55"/>
<path d="M433 210.6 H446.8 A3 3 0 0 1 449.8 213.6 V216.8 A3 3 0 0 1 446.8 219.8 H433 Z" fill="#94a151"/>
<path d="M433 212 H445.9 A2.5 2.5 0 0 1 448.4 214.5 V216.1 A2.5 2.5 0 0 1 445.9 218.6 H433 Z" fill="#7a974b"/>
<path d="M433 213.6 H444.9 A1.6 1.6 0 0 1 446.5 215.2 V215.4 A1.6 1.6 0 0 1 444.9 217 H433 Z" fill="#6b9148"/>
<rect x="433" y="31" width="0.9" height="202.1" fill="#99a352" opacity="0.45"/>
</g>
<path d="M56.3 233.1V31.2H181.2" stroke="#3c3a33" stroke-width="0.55" fill="none"/>
<path d="M181.15 31V232.9H56.3" stroke="#3c3a33" stroke-width="0.5" fill="none" opacity="0.55"/>
<path d="M336.3 233.1V31.2H461.2" stroke="#3c3a33" stroke-width="0.55" fill="none"/>
<path d="M461.15 31V232.9H336.3" stroke="#3c3a33" stroke-width="0.5" fill="none" opacity="0.55"/>
<linearGradient id="cb230" x1="0" y1="1" x2="0" y2="0"><stop offset="0" stop-color="#ffcc66"/><stop offset="1" stop-color="#006633"/></linearGradient>
<rect x="194.4" y="31" width="21.6" height="202.1" fill="url(#cb230)" stroke="#222" stroke-width="0.5"/>
<text x="222.5" y="239" font-size="16" textLength="8.6" lengthAdjust="spacingAndGlyphs" stroke="#111" stroke-width="0.3">0</text>
<path d="M194.4 149.24h4M216 149.24h-4" stroke="#222" stroke-width="0.4" fill="none"/>
<text x="222.5" y="155.14" font-size="16" textLength="17.8" lengthAdjust="spacingAndGlyphs" stroke="#111" stroke-width="0.3">10</text>
<path d="M194.4 65.38h4M216 65.38h-4" stroke="#222" stroke-width="0.4" fill="none"/>
<text x="222.5" y="71.28" font-size="16" textLength="17.8" lengthAdjust="spacingAndGlyphs" stroke="#111" stroke-width="0.3">20</text>
<linearGradient id="cb237" x1="0" y1="1" x2="0" y2="0"><stop offset="0" stop-color="#ffcc66"/><stop offset="1" stop-color="#006633"/></linearGradient>
<rect x="474.4" y="31" width="21.6" height="202.1" fill="url(#cb237)" stroke="#222" stroke-width="0.5"/>
<text x="502.3" y="239" font-size="16" textLength="8.6" lengthAdjust="spacingAndGlyphs" stroke="#111" stroke-width="0.3">0</text>
<path d="M474.4 183.44h4M496 183.44h-4" stroke="#222" stroke-width="0.4" fill="none"/>
<text x="502.3" y="189.34" font-size="16" textLength="8.6" lengthAdjust="spacingAndGlyphs" stroke="#111" stroke-width="0.3">5</text>
<path d="M474.4 133.79h4M496 133.79h-4" stroke="#222" stroke-width="0.4" fill="none"/>
<text x="502.3" y="139.69" font-size="16" textLength="17.8" lengthAdjust="spacingAndGlyphs" stroke="#111" stroke-width="0.3">10</text>
<path d="M474.4 84.13h4M496 84.13h-4" stroke="#222" stroke-width="0.4" fill="none"/>
<text x="502.3" y="90.03" font-size="16" textLength="17.8" lengthAdjust="spacingAndGlyphs" stroke="#111" stroke-width="0.3">15</text>
<path d="M474.4 34.48h4M496 34.48h-4" stroke="#222" stroke-width="0.4" fill="none"/>
<text x="502.3" y="40.38" font-size="16" textLength="17.8" lengthAdjust="spacingAndGlyphs" stroke="#111" stroke-width="0.3">20</text>
<g stroke="#111" stroke-width="0.18" stroke-linejoin="round">
<text x="80.3" y="16.7" font-size="16.5" textLength="60" lengthAdjust="spacingAndGlyphs">variable</text>
<text x="148" y="16.7" font-size="16.5" textLength="9" lengthAdjust="spacingAndGlyphs"><tspan font-style="italic">a</tspan></text>
<text x="32.3" y="37" font-size="16" textLength="18.5" lengthAdjust="spacingAndGlyphs">50</text>
<text x="32.3" y="77.8" font-size="16" textLength="18.5" lengthAdjust="spacingAndGlyphs">40</text>
<text x="32.3" y="118.2" font-size="16" textLength="18.5" lengthAdjust="spacingAndGlyphs">30</text>
<text x="32.3" y="158.6" font-size="16" textLength="18.5" lengthAdjust="spacingAndGlyphs">20</text>
<text x="32.3" y="199" font-size="16" textLength="18.5" lengthAdjust="spacingAndGlyphs">10</text>
<text x="87.6" y="250.8" font-size="16" textLength="8.4" lengthAdjust="spacingAndGlyphs">1</text>
<text x="123.6" y="250.8" font-size="16" textLength="8.4" lengthAdjust="spacingAndGlyphs">2</text>
<text x="158.8" y="250.8" font-size="16" textLength="8.4" lengthAdjust="spacingAndGlyphs">3</text>
<text x="102.9" y="274.8" font-size="16.5" textLength="8.8" lengthAdjust="spacingAndGlyphs"><tspan font-style="italic">a</tspan></text>
<text x="118.3" y="274.8" font-size="16.5" textLength="16.2" lengthAdjust="spacingAndGlyphs">[-]</text>
<text x="17.9" y="205.2" font-size="16.5" textLength="42.4" lengthAdjust="spacingAndGlyphs" transform="rotate(-90 17.9 205.2)">uphill</text>
<text x="17.9" y="156.8" font-size="16.5" textLength="66.2" lengthAdjust="spacingAndGlyphs" transform="rotate(-90 17.9 156.8)">distance</text>
<text x="17.9" y="84.3" font-size="16.5" textLength="25.6" lengthAdjust="spacingAndGlyphs" transform="rotate(-90 17.9 84.3)">[m]</text>
<text x="262.3" y="203.4" font-size="16.5" textLength="36" lengthAdjust="spacingAndGlyphs" transform="rotate(-90 262.3 203.4)">plant</text>
<text x="262.3" y="161.6" font-size="16.5" textLength="63.4" lengthAdjust="spacingAndGlyphs" transform="rotate(-90 262.3 161.6)">biomass</text>
<text x="262.3" y="92.5" font-size="16.5" textLength="10" lengthAdjust="spacingAndGlyphs" transform="rotate(-90 262.3 92.5)"><tspan font-style="italic">n</tspan></text>
<text x="262.3" y="76.4" font-size="16.5" textLength="17.8" lengthAdjust="spacingAndGlyphs" transform="rotate(-90 262.3 76.4)">[-]</text>
<path d="M103.2 263.8H111.2" stroke="#111" stroke-width="0.9" fill="none"/>
<text x="358.4" y="16.7" font-size="16.5" textLength="61.4" lengthAdjust="spacingAndGlyphs">constant</text>
<text x="428.8" y="16.7" font-size="16.5" textLength="9" lengthAdjust="spacingAndGlyphs"><tspan font-style="italic">a</tspan></text>
<text x="311.9" y="37" font-size="16" textLength="18.5" lengthAdjust="spacingAndGlyphs">50</text>
<text x="311.9" y="77.8" font-size="16" textLength="18.5" lengthAdjust="spacingAndGlyphs">40</text>
<text x="311.9" y="118.2" font-size="16" textLength="18.5" lengthAdjust="spacingAndGlyphs">30</text>
<text x="311.9" y="158.6" font-size="16" textLength="18.5" lengthAdjust="spacingAndGlyphs">20</text>
<text x="311.9" y="199" font-size="16" textLength="18.5" lengthAdjust="spacingAndGlyphs">10</text>
<text x="367.25" y="250.8" font-size="16" textLength="8.4" lengthAdjust="spacingAndGlyphs">1</text>
<text x="403.25" y="250.8" font-size="16" textLength="8.4" lengthAdjust="spacingAndGlyphs">2</text>
<text x="438.45" y="250.8" font-size="16" textLength="8.4" lengthAdjust="spacingAndGlyphs">3</text>
<text x="382.6" y="274.8" font-size="16.5" textLength="8.8" lengthAdjust="spacingAndGlyphs"><tspan font-style="italic">a</tspan></text>
<text x="398.2" y="274.8" font-size="16.5" textLength="16" lengthAdjust="spacingAndGlyphs">[-]</text>
<text x="297.9" y="205.2" font-size="16.5" textLength="42.4" lengthAdjust="spacingAndGlyphs" transform="rotate(-90 297.9 205.2)">uphill</text>
<text x="297.9" y="156.8" font-size="16.5" textLength="66.2" lengthAdjust="spacingAndGlyphs" transform="rotate(-90 297.9 156.8)">distance</text>
<text x="297.9" y="84.3" font-size="16.5" textLength="25.6" lengthAdjust="spacingAndGlyphs" transform="rotate(-90 297.9 84.3)">[m]</text>
<text x="542.3" y="203.4" font-size="16.5" textLength="36" lengthAdjust="spacingAndGlyphs" transform="rotate(-90 542.3 203.4)">plant</text>
<text x="542.3" y="161.6" font-size="16.5" textLength="63.4" lengthAdjust="spacingAndGlyphs" transform="rotate(-90 542.3 161.6)">biomass</text>
<text x="542.3" y="92.5" font-size="16.5" textLength="10" lengthAdjust="spacingAndGlyphs" transform="rotate(-90 542.3 92.5)"><tspan font-style="italic">n</tspan></text>
<text x="542.3" y="76.4" font-size="16.5" textLength="17.8" lengthAdjust="spacingAndGlyphs" transform="rotate(-90 542.3 76.4)">[-]</text>
</g>
</svg>
</body></html>
